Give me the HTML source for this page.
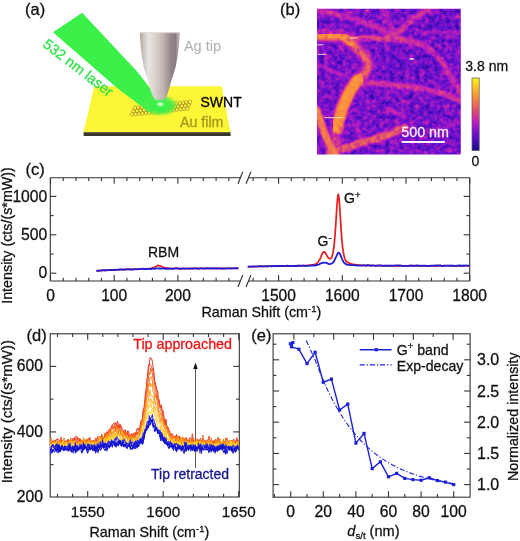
<!DOCTYPE html>
<html lang="en"><head><meta charset="utf-8"><title>TERS of SWNT figure</title>
<style>html,body{margin:0;padding:0;background:#fff}svg{display:block}text{stroke:#111;stroke-width:.28px}text.c{stroke:none}</style></head>
<body>
<svg width="520" height="541" viewBox="0 0 520 541" font-family='"Liberation Sans", sans-serif' font-size="14" fill="#111">
<defs>
<linearGradient id="tipg" x1="0" x2="1" y1="0" y2="0">
<stop offset="0" stop-color="#a89e9c"/><stop offset="0.08" stop-color="#c9c0bc"/><stop offset="0.22" stop-color="#e9e4e0"/>
<stop offset="0.42" stop-color="#d6cdc6"/><stop offset="0.6" stop-color="#beb2ae"/><stop offset="0.78" stop-color="#93868a"/><stop offset="0.9" stop-color="#8a7c84"/><stop offset="0.96" stop-color="#b8afb5"/><stop offset="1" stop-color="#a39a9e"/>
</linearGradient>
<radialGradient id="glow" cx="0.5" cy="0.5" r="0.5">
<stop offset="0" stop-color="#ffffff"/><stop offset="0.18" stop-color="#b8ffb8"/><stop offset="0.45" stop-color="#3df04a" stop-opacity="0.95"/><stop offset="1" stop-color="#3df04a" stop-opacity="0"/>
</radialGradient>
<radialGradient id="glow2" cx="0.5" cy="0.5" r="0.5">
<stop offset="0" stop-color="#3df04a"/><stop offset="0.5" stop-color="#3df04a" stop-opacity="1"/><stop offset="0.75" stop-color="#4af048" stop-opacity="0.6"/><stop offset="1" stop-color="#7cf03c" stop-opacity="0"/>
</radialGradient>
<linearGradient id="cbar" x1="0" x2="0" y1="0" y2="1"><stop offset="0.0" stop-color="rgb(255,242,32)"/><stop offset="0.1" stop-color="rgb(255,208,38)"/><stop offset="0.2" stop-color="rgb(254,165,50)"/><stop offset="0.3" stop-color="rgb(246,130,70)"/><stop offset="0.4" stop-color="rgb(232,95,100)"/><stop offset="0.5" stop-color="rgb(215,62,135)"/><stop offset="0.6" stop-color="rgb(190,32,185)"/><stop offset="0.7" stop-color="rgb(145,22,200)"/><stop offset="0.8" stop-color="rgb(100,16,205)"/><stop offset="0.9" stop-color="rgb(62,12,175)"/><stop offset="1.0" stop-color="rgb(25,10,135)"/></linearGradient>
<filter id="b1" color-interpolation-filters="sRGB" x="-20%" y="-20%" width="140%" height="140%"><feGaussianBlur stdDeviation="1.1"/></filter>
<filter id="b2" color-interpolation-filters="sRGB" x="-20%" y="-20%" width="140%" height="140%"><feGaussianBlur stdDeviation="1.8"/></filter>
<filter id="b3" color-interpolation-filters="sRGB" x="-30%" y="-30%" width="160%" height="160%"><feGaussianBlur stdDeviation="4"/></filter>
<filter id="b05" color-interpolation-filters="sRGB" x="-20%" y="-20%" width="140%" height="140%"><feGaussianBlur stdDeviation="0.5"/></filter>
<filter id="noise" x="0" y="0" width="100%" height="100%" color-interpolation-filters="sRGB">
<feTurbulence type="fractalNoise" baseFrequency="0.2" numOctaves="2" seed="11" result="t"/>
<feColorMatrix in="t" type="matrix" values="0.5 0 0 0 -0.015  0.5 0 0 0 -0.015  0.5 0 0 0 -0.015  0 0 0 0 1"/>
<feGaussianBlur stdDeviation="0.6"/>
</filter>
<filter id="nk" x="0" y="0" width="100%" height="100%" color-interpolation-filters="sRGB">
<feTurbulence type="fractalNoise" baseFrequency="0.21" numOctaves="2" seed="3"/>
<feColorMatrix type="matrix" values="0 0 0 0 0  0 0 0 0 0  0 0 0 0 0  0.8 0 0 0 -0.37"/>
</filter>
<filter id="nw" x="0" y="0" width="100%" height="100%" color-interpolation-filters="sRGB">
<feTurbulence type="fractalNoise" baseFrequency="0.21" numOctaves="2" seed="29"/>
<feColorMatrix type="matrix" values="0 0 0 0 1  0 0 0 0 1  0 0 0 0 1  0.6 0 0 0 -0.29"/>
</filter>
<filter id="plasma" x="0" y="0" width="100%" height="100%" color-interpolation-filters="sRGB">
<feComponentTransfer>
<feFuncR type="table" tableValues="0.098 0.243 0.392 0.569 0.745 0.843 0.910 0.965 0.996 1.000 1.000"/>
<feFuncG type="table" tableValues="0.039 0.047 0.063 0.086 0.125 0.243 0.373 0.510 0.647 0.816 0.949"/>
<feFuncB type="table" tableValues="0.529 0.686 0.804 0.784 0.725 0.529 0.392 0.275 0.196 0.149 0.125"/>
</feComponentTransfer>
</filter>
<clipPath id="afmclip"><rect x="317" y="8.8" width="143.8" height="145.7"/></clipPath>
<pattern id="hex" width="3.6" height="6.2" patternUnits="userSpaceOnUse" patternTransform="rotate(-5.5)">
<path d="M0 1.55 L1.8 0.5 L3.6 1.55 M0 4.65 L1.8 5.7 L3.6 4.65 M0 1.55 V4.65 M3.6 1.55 V4.65 M1.8 0.5 V-0.6 M1.8 5.7 V6.8" fill="none" stroke="#7a5a1c" stroke-width="0.75"/>
</pattern>
</defs>
<rect width="520" height="541" fill="#fff"/>
<g id="pa">
<text x="25" y="14.5" font-size="16.5">(a)</text>
<polygon points="94.2,86.3 221.8,86.3 230.5,132.4 83.5,132.4" fill="#fdf637"/>
<polygon points="83.5,132.2 230.5,132.2 230.7,135.9 83.7,135.9" fill="#38382f"/>
<path transform="translate(133.2,108.3) rotate(-6.29)" d="M1.73,-2 L3.46,-1 L3.46,1 L1.73,2 L-0,1 L0,-1Z M5.2,-2 L6.93,-1 L6.93,1 L5.2,2 L3.46,1 L3.46,-1Z M8.66,-2 L10.39,-1 L10.39,1 L8.66,2 L6.93,1 L6.93,-1Z M12.12,-2 L13.86,-1 L13.86,1 L12.12,2 L10.39,1 L10.39,-1Z M15.59,-2 L17.32,-1 L17.32,1 L15.59,2 L13.86,1 L13.86,-1Z M19.05,-2 L20.78,-1 L20.78,1 L19.05,2 L17.32,1 L17.32,-1Z M22.52,-2 L24.25,-1 L24.25,1 L22.52,2 L20.78,1 L20.78,-1Z M25.98,-2 L27.71,-1 L27.71,1 L25.98,2 L24.25,1 L24.25,-1Z M29.44,-2 L31.18,-1 L31.18,1 L29.44,2 L27.71,1 L27.71,-1Z M32.91,-2 L34.64,-1 L34.64,1 L32.91,2 L31.18,1 L31.18,-1Z M36.37,-2 L38.11,-1 L38.11,1 L36.37,2 L34.64,1 L34.64,-1Z M39.84,-2 L41.57,-1 L41.57,1 L39.84,2 L38.11,1 L38.11,-1Z M43.3,-2 L45.03,-1 L45.03,1 L43.3,2 L41.57,1 L41.57,-1Z M46.77,-2 L48.5,-1 L48.5,1 L46.77,2 L45.03,1 L45.03,-1Z M50.23,-2 L51.96,-1 L51.96,1 L50.23,2 L48.5,1 L48.5,-1Z M53.69,-2 L55.43,-1 L55.43,1 L53.69,2 L51.96,1 L51.96,-1Z M57.16,-2 L58.89,-1 L58.89,1 L57.16,2 L55.43,1 L55.43,-1Z M0,1 L1.73,2 L1.73,4 L0,5 L-1.73,4 L-1.73,2Z M3.46,1 L5.2,2 L5.2,4 L3.46,5 L1.73,4 L1.73,2Z M6.93,1 L8.66,2 L8.66,4 L6.93,5 L5.2,4 L5.2,2Z M10.39,1 L12.12,2 L12.12,4 L10.39,5 L8.66,4 L8.66,2Z M13.86,1 L15.59,2 L15.59,4 L13.86,5 L12.12,4 L12.12,2Z M17.32,1 L19.05,2 L19.05,4 L17.32,5 L15.59,4 L15.59,2Z M20.78,1 L22.52,2 L22.52,4 L20.78,5 L19.05,4 L19.05,2Z M24.25,1 L25.98,2 L25.98,4 L24.25,5 L22.52,4 L22.52,2Z M27.71,1 L29.44,2 L29.44,4 L27.71,5 L25.98,4 L25.98,2Z M31.18,1 L32.91,2 L32.91,4 L31.18,5 L29.44,4 L29.44,2Z M34.64,1 L36.37,2 L36.37,4 L34.64,5 L32.91,4 L32.91,2Z M38.11,1 L39.84,2 L39.84,4 L38.11,5 L36.37,4 L36.37,2Z M41.57,1 L43.3,2 L43.3,4 L41.57,5 L39.84,4 L39.84,2Z M45.03,1 L46.77,2 L46.77,4 L45.03,5 L43.3,4 L43.3,2Z M48.5,1 L50.23,2 L50.23,4 L48.5,5 L46.77,4 L46.77,2Z M51.96,1 L53.69,2 L53.69,4 L51.96,5 L50.23,4 L50.23,2Z M55.43,1 L57.16,2 L57.16,4 L55.43,5 L53.69,4 L53.69,2Z M-1.73,4 L0,5 L0,7 L-1.73,8 L-3.46,7 L-3.46,5Z M1.73,4 L3.46,5 L3.46,7 L1.73,8 L-0,7 L0,5Z M5.2,4 L6.93,5 L6.93,7 L5.2,8 L3.46,7 L3.46,5Z M8.66,4 L10.39,5 L10.39,7 L8.66,8 L6.93,7 L6.93,5Z M12.12,4 L13.86,5 L13.86,7 L12.12,8 L10.39,7 L10.39,5Z M15.59,4 L17.32,5 L17.32,7 L15.59,8 L13.86,7 L13.86,5Z M19.05,4 L20.78,5 L20.78,7 L19.05,8 L17.32,7 L17.32,5Z M22.52,4 L24.25,5 L24.25,7 L22.52,8 L20.78,7 L20.78,5Z M25.98,4 L27.71,5 L27.71,7 L25.98,8 L24.25,7 L24.25,5Z M29.44,4 L31.18,5 L31.18,7 L29.44,8 L27.71,7 L27.71,5Z M32.91,4 L34.64,5 L34.64,7 L32.91,8 L31.18,7 L31.18,5Z M36.37,4 L38.11,5 L38.11,7 L36.37,8 L34.64,7 L34.64,5Z M39.84,4 L41.57,5 L41.57,7 L39.84,8 L38.11,7 L38.11,5Z M43.3,4 L45.03,5 L45.03,7 L43.3,8 L41.57,7 L41.57,5Z M46.77,4 L48.5,5 L48.5,7 L46.77,8 L45.03,7 L45.03,5Z M50.23,4 L51.96,5 L51.96,7 L50.23,8 L48.5,7 L48.5,5Z M53.69,4 L55.43,5 L55.43,7 L53.69,8 L51.96,7 L51.96,5Z" fill="none" stroke="#9c7e2a" stroke-width="0.55"/>
<path d="M82.2,12.8 L53,32.3 L115.3,86.4 Q134,101 150,112.5 L160,100 Q151,90 146.1,83 Q141,76 135.7,70 Z" fill="#3cf04a"/>
<text transform="translate(42,46) rotate(37.6)" font-size="14.5" fill="#2fe046" style="stroke:#2fe046">532 nm laser</text>
<ellipse cx="160.3" cy="105.5" rx="19" ry="11.5" fill="url(#glow2)"/>
<path d="M139.8,32 L179.8,32 C179,50 177,66 172.3,77.7 C170.6,83 169.6,87.5 168.4,91.2 C167.4,94.5 166.6,96.8 165.4,98.8 C164,101.4 161.8,102.2 160.2,102.2 C158.4,102.2 156,101.4 154.4,98.8 C153.2,96.8 152,94.5 150.8,91.2 C149.5,87.5 148.6,83 147.1,77.7 C142.6,66 140.6,50 139.8,32 Z" fill="url(#tipg)"/>
<path d="M139.8,32 L179.8,32 L179.7,33.2 L139.9,33.2 Z" fill="#e6e0dc" opacity="0.8"/>
<ellipse cx="160.3" cy="104.2" rx="10" ry="6.2" fill="url(#glow)"/>
<text x="183.9" y="51.4" font-size="14.5" fill="#adadad" style="stroke:none">Ag tip</text>
<text x="200.5" y="106.5" font-size="14" fill="#000" style="stroke:#000">SWNT</text>
<text x="180" y="127" font-size="14.2" fill="#a3941c" style="stroke:#a3941c">Au film</text>
</g>
<g id="pb">
<text x="280" y="14.5" font-size="16.5">(b)</text>
<g clip-path="url(#afmclip)"><g filter="url(#plasma)">
<rect x="312" y="4" width="154" height="156" fill="#3d3d3d"/>
<rect x="312" y="4" width="154" height="156" fill="#3d3d3d" filter="url(#noise)"/>
<ellipse cx="432" cy="62" rx="16" ry="12" fill="#000" opacity="0.22" filter="url(#b3)"/>
<ellipse cx="392" cy="62" rx="16" ry="12" fill="#000" opacity="0.16" filter="url(#b3)"/>
<ellipse cx="440" cy="22" rx="14" ry="7" fill="#000" opacity="0.15" filter="url(#b3)"/>
<ellipse cx="340" cy="58" rx="10" ry="9" fill="#000" opacity="0.1" filter="url(#b3)"/>
<ellipse cx="425" cy="110" rx="20" ry="10" fill="#000" opacity="0.08" filter="url(#b3)"/>
<path d="M313,9.5 L313.7,9.65 L314.5,9.81 L315.44,10.01 L316.56,10.24 L317.89,10.51 L319.47,10.85 L321.33,11.24 L323.5,11.7 L326.1,12.23 L329.14,12.81 L332.5,13.45 L336.09,14.14 L339.8,14.9 L343.5,15.71 L347.11,16.57 L350.5,17.5 L353.77,18.52 L357.07,19.65 L360.36,20.87 L363.61,22.12 L366.78,23.4 L369.84,24.66 L372.76,25.87 L375.5,27 L378.11,28.09 L380.63,29.18 L383.04,30.25 L385.33,31.29 L387.46,32.29 L389.44,33.21 L391.22,34.06 L392.8,34.8 L394.15,35.44 L395.28,36 L396.21,36.48 L396.98,36.89 L397.62,37.24 L398.15,37.53 L398.6,37.78 L399,38" fill="none" stroke="rgb(117,117,117)" stroke-width="5.5" stroke-linecap="round" stroke-linejoin="round" filter="url(#b2)" style="mix-blend-mode:lighten"/>
<path d="M383,10 L383.69,11.43 L384.62,13.38 L385.72,15.7 L386.94,18.25 L388.23,20.9 L389.54,23.5 L390.81,25.91 L392,28 L393.19,29.87 L394.46,31.7 L395.77,33.47 L397.06,35.12 L398.28,36.64 L399.38,37.98 L400.31,39.12 L401,40" fill="none" stroke="rgb(102,102,102)" stroke-width="5" stroke-linecap="round" stroke-linejoin="round" filter="url(#b1)" style="mix-blend-mode:lighten"/>
<path d="M433,6 L431.59,6.93 L429.7,8.16 L427.44,9.62 L424.94,11.25 L422.32,12.97 L419.71,14.72 L417.23,16.42 L415,18 L412.97,19.52 L411.02,21.07 L409.11,22.63 L407.25,24.19 L405.42,25.72 L403.61,27.21 L401.81,28.64 L400,30 L398.11,31.33 L396.1,32.67 L394.06,33.99 L392.06,35.25 L390.18,36.42 L388.49,37.45 L387.07,38.33 L386,39" fill="none" stroke="rgb(120,120,120)" stroke-width="6" stroke-linecap="round" stroke-linejoin="round" filter="url(#b1)" style="mix-blend-mode:lighten"/>
<path d="M428,33 L429.29,32.91 L430.98,32.77 L433,32.61 L435.25,32.44 L437.66,32.27 L440.14,32.13 L442.62,32.04 L445,32 L447.49,32.04 L450.26,32.13 L453.16,32.27 L456.06,32.44 L458.83,32.61 L461.34,32.77 L463.44,32.91 L465,33" fill="none" stroke="rgb(87,87,87)" stroke-width="6" stroke-linecap="round" stroke-linejoin="round" filter="url(#b2)" style="mix-blend-mode:lighten"/>
<path d="M352,40 L353.42,39.83 L355.33,39.58 L357.61,39.28 L360.12,38.96 L362.75,38.65 L365.36,38.36 L367.82,38.14 L370,38 L371.93,37.95 L373.75,37.96 L375.48,38.03 L377.16,38.12 L378.82,38.25 L380.5,38.38 L382.21,38.5 L384,38.6 L385.86,38.67 L387.75,38.73 L389.67,38.78 L391.61,38.84 L393.56,38.92 L395.52,39.03 L397.47,39.19 L399.4,39.4 L401.33,39.65 L403.25,39.91 L405.18,40.2 L407.11,40.53 L409.04,40.91 L410.96,41.36 L412.88,41.89 L414.8,42.5 L416.73,43.19 L418.68,43.95 L420.63,44.77 L422.58,45.66 L424.51,46.63 L426.39,47.67 L428.23,48.79 L430,50 L431.73,51.31 L433.43,52.74 L435.1,54.26 L436.73,55.86 L438.3,57.5 L439.79,59.17 L441.2,60.84 L442.5,62.5 L443.68,64.19 L444.74,65.95 L445.7,67.76 L446.59,69.57 L447.44,71.37 L448.28,73.11 L449.12,74.76 L450,76.3 L450.89,77.69 L451.76,78.94 L452.62,80.09 L453.47,81.2 L454.32,82.3 L455.19,83.44 L456.08,84.66 L457,86 L458.01,87.56 L459.12,89.32 L460.28,91.2 L461.44,93.11 L462.54,94.93 L463.54,96.59 L464.38,97.97 L465,99" fill="none" stroke="rgb(115,115,115)" stroke-width="6" stroke-linecap="round" stroke-linejoin="round" filter="url(#b1)" style="mix-blend-mode:lighten"/>
<path d="M346,37 L347.88,36.99 L350.41,36.96 L353.42,36.93 L356.75,36.91 L360.24,36.89 L363.72,36.89 L367.03,36.93 L370,37 L372.74,37.11 L375.45,37.26 L378.1,37.43 L380.69,37.62 L383.19,37.83 L385.59,38.05 L387.86,38.28 L390,38.5 L392.05,38.74 L394.05,39.01 L395.96,39.3 L397.75,39.59 L399.38,39.87 L400.83,40.13 L402.04,40.34 L403,40.5" fill="none" stroke="rgb(133,133,133)" stroke-width="4" stroke-linecap="round" stroke-linejoin="round" filter="url(#b1)" style="mix-blend-mode:lighten"/>
<path d="M356,82 L357.26,82.12 L358.97,82.29 L361,82.49 L363.25,82.71 L365.59,82.93 L367.91,83.15 L370.08,83.34 L372,83.5 L373.67,83.62 L375.2,83.71 L376.64,83.79 L378.04,83.85 L379.43,83.91 L380.85,83.99 L382.36,84.08 L384,84.2 L385.71,84.34 L387.43,84.48 L389.19,84.63 L391.01,84.8 L392.91,84.99 L394.93,85.19 L397.08,85.43 L399.4,85.7 L401.92,85.99 L404.64,86.29 L407.5,86.61 L410.47,86.96 L413.51,87.34 L416.55,87.77 L419.56,88.25 L422.5,88.8 L425.4,89.42 L428.34,90.11 L431.29,90.86 L434.23,91.66 L437.14,92.48 L440,93.32 L442.79,94.17 L445.5,95 L448.24,95.88 L451.08,96.86 L453.93,97.87 L456.69,98.89 L459.27,99.85 L461.58,100.72 L463.52,101.45 L465,102" fill="none" stroke="rgb(117,117,117)" stroke-width="6" stroke-linecap="round" stroke-linejoin="round" filter="url(#b1)" style="mix-blend-mode:lighten"/>
<path d="M313,62 L314.6,62.76 L316.73,63.8 L319.27,65.03 L322.09,66.39 L325.06,67.81 L328.04,69.22 L330.89,70.54 L333.5,71.7 L335.99,72.74 L338.56,73.75 L341.13,74.71 L343.66,75.64 L346.07,76.54 L348.3,77.39 L350.3,78.21 L352,79 L353.39,79.77 L354.52,80.53 L355.43,81.26 L356.16,81.96 L356.74,82.59 L357.21,83.16 L357.62,83.63 L358,84" fill="none" stroke="rgb(102,102,102)" stroke-width="3.5" stroke-linecap="round" stroke-linejoin="round" filter="url(#b1)" style="mix-blend-mode:lighten"/>
<path d="M347.4,113.4 L348.25,114.62 L349.41,116.27 L350.8,118.23 L352.32,120.4 L353.9,122.66 L355.42,124.88 L356.82,126.97 L358,128.8 L359.01,130.48 L359.96,132.16 L360.85,133.8 L361.66,135.36 L362.39,136.8 L363.03,138.09 L363.57,139.16 L364,140" fill="none" stroke="rgb(94,94,94)" stroke-width="3.5" stroke-linecap="round" stroke-linejoin="round" filter="url(#b1)" style="mix-blend-mode:lighten"/>
<path d="M465,119 L463.47,119.64 L461.4,120.53 L458.94,121.59 L456.22,122.75 L453.38,123.94 L450.55,125.09 L447.88,126.14 L445.5,127 L443.27,127.72 L440.98,128.38 L438.71,128.97 L436.53,129.5 L434.5,129.97 L432.69,130.38 L431.17,130.72 L430,131" fill="none" stroke="rgb(84,84,84)" stroke-width="5.5" stroke-linecap="round" stroke-linejoin="round" filter="url(#b2)" style="mix-blend-mode:lighten"/>
<path d="M407,104 L406.62,105.43 L406.09,107.45 L405.44,109.88 L404.75,112.5 L404.06,115.12 L403.41,117.55 L402.88,119.57 L402.5,121" fill="none" stroke="rgb(84,84,84)" stroke-width="3" stroke-linecap="round" stroke-linejoin="round" filter="url(#b1)" style="mix-blend-mode:lighten"/>
<path d="M390,108.8 L390.79,109.32 L391.91,110.06 L393.25,110.94 L394.7,111.9 L396.15,112.86 L397.49,113.74 L398.61,114.48 L399.4,115" fill="none" stroke="rgb(115,115,115)" stroke-width="4" stroke-linecap="round" stroke-linejoin="round" filter="url(#b1)" style="mix-blend-mode:lighten"/>
<path d="M330,153 L331.62,152.46 L333.81,151.73 L336.41,150.86 L339.29,149.89 L342.29,148.9 L345.26,147.91 L348.05,147 L350.5,146.2 L352.66,145.51 L354.69,144.87 L356.61,144.27 L358.47,143.71 L360.28,143.16 L362.09,142.61 L363.92,142.06 L365.8,141.5 L367.74,140.93 L369.72,140.36 L371.72,139.8 L373.71,139.24 L375.67,138.68 L377.59,138.12 L379.44,137.56 L381.2,137 L382.86,136.44 L384.44,135.89 L385.96,135.33 L387.42,134.78 L388.86,134.22 L390.29,133.66 L391.73,133.09 L393.2,132.5 L394.77,131.86 L396.44,131.17 L398.16,130.44 L399.85,129.72 L401.45,129.03 L402.88,128.41 L404.09,127.89 L405,127.5" fill="none" stroke="rgb(153,153,153)" stroke-width="7.5" stroke-linecap="round" stroke-linejoin="round" filter="url(#b1)" style="mix-blend-mode:lighten"/>
<path d="M316.2,109 L316.35,109.4 L316.53,109.89 L316.75,110.48 L317,111.16 L317.27,111.9 L317.57,112.71 L317.88,113.58 L318.2,114.5 L318.53,115.48 L318.89,116.52 L319.26,117.64 L319.65,118.81 L320.06,120.04 L320.49,121.32 L320.93,122.64 L321.4,124 L321.89,125.44 L322.41,126.99 L322.95,128.61 L323.51,130.27 L324.08,131.92 L324.65,133.54 L325.23,135.07 L325.8,136.5 L326.37,137.78 L326.95,138.94 L327.53,140.01 L328.11,141.05 L328.7,142.09 L329.3,143.19 L329.9,144.38 L330.5,145.7 L331.14,147.26 L331.85,149.05 L332.57,150.97 L333.29,152.92 L333.98,154.81 L334.59,156.51 L335.11,157.95 L335.5,159" fill="none" stroke="rgb(178,178,178)" stroke-width="7.5" stroke-linecap="round" stroke-linejoin="round" filter="url(#b1)" style="mix-blend-mode:lighten"/>
<path d="M310,35.6 L311.59,35.61 L313.76,35.62 L316.35,35.63 L319.2,35.65 L322.15,35.67 L325.04,35.7 L327.71,35.74 L330,35.8 L331.97,35.83 L333.79,35.81 L335.49,35.79 L337.08,35.78 L338.58,35.83 L340.02,35.96 L341.42,36.2 L342.8,36.6 L344.12,37.15 L345.35,37.83 L346.51,38.62 L347.63,39.49 L348.71,40.44 L349.78,41.44 L350.87,42.46 L352,43.5 L353.17,44.58 L354.36,45.74 L355.56,46.95 L356.75,48.2 L357.93,49.47 L359.07,50.74 L360.16,51.99 L361.2,53.2 L362.22,54.38 L363.27,55.56 L364.31,56.72 L365.3,57.88 L366.2,59.04 L366.97,60.19 L367.59,61.35 L368,62.5 L368.22,63.66 L368.28,64.83 L368.2,66 L367.99,67.16 L367.65,68.32 L367.2,69.47 L366.65,70.59 L366,71.7 L365.19,72.78 L364.18,73.82 L363.03,74.85 L361.78,75.86 L360.5,76.88 L359.24,77.9 L358.05,78.94 L357,80 L356.06,81.09 L355.16,82.2 L354.3,83.32 L353.48,84.46 L352.7,85.59 L351.94,86.73 L351.21,87.87 L350.5,89 L349.83,90.11 L349.2,91.21 L348.6,92.3 L348.03,93.39 L347.48,94.49 L346.93,95.62 L346.37,96.79 L345.8,98 L345.21,99.26 L344.61,100.58 L344,101.92 L343.39,103.29 L342.8,104.68 L342.24,106.06 L341.7,107.44 L341.2,108.8 L340.74,110.15 L340.3,111.51 L339.9,112.88 L339.51,114.24 L339.15,115.59 L338.81,116.93 L338.5,118.23 L338.2,119.5 L337.93,120.72 L337.7,121.88 L337.5,123.01 L337.31,124.12 L337.14,125.23 L336.97,126.37 L336.79,127.56 L336.6,128.8 L336.4,130.08 L336.19,131.35 L335.97,132.65 L335.76,133.98 L335.56,135.36 L335.36,136.82 L335.17,138.36 L335,140 L334.84,141.88 L334.68,144.04 L334.54,146.35 L334.4,148.7 L334.28,150.96 L334.17,153.01 L334.07,154.73 L334,156" fill="none" stroke="rgb(102,102,102)" stroke-width="13" stroke-linecap="round" stroke-linejoin="round" filter="url(#b2)" style="mix-blend-mode:lighten"/>
<path d="M310,35.6 L311.59,35.61 L313.76,35.62 L316.35,35.63 L319.2,35.65 L322.15,35.67 L325.04,35.7 L327.71,35.74 L330,35.8 L331.97,35.83 L333.79,35.81 L335.49,35.79 L337.08,35.78 L338.58,35.83 L340.02,35.96 L341.42,36.2 L342.8,36.6 L344.19,37.22 L345.57,38.06 L346.92,39.04 L348.2,40.1 L349.38,41.15 L350.43,42.12 L351.31,42.93 L352,43.5" fill="none" stroke="rgb(189,189,189)" stroke-width="8" stroke-linecap="round" stroke-linejoin="round" filter="url(#b1)" style="mix-blend-mode:lighten"/>
<path d="M352,43.5 L352.73,44.25 L353.71,45.25 L354.88,46.44 L356.17,47.77 L357.52,49.17 L358.85,50.58 L360.1,51.94 L361.2,53.2 L362.22,54.38 L363.27,55.56 L364.31,56.72 L365.3,57.88 L366.2,59.04 L366.97,60.19 L367.59,61.35 L368,62.5 L368.21,63.66 L368.26,64.83 L368.16,66 L367.93,67.16 L367.58,68.32 L367.13,69.47 L366.6,70.59 L366,71.7 L365.23,72.84 L364.23,74.03 L363.09,75.24 L361.88,76.43 L360.68,77.53 L359.58,78.53 L358.66,79.37 L358,80" fill="none" stroke="rgb(158,158,158)" stroke-width="6" stroke-linecap="round" stroke-linejoin="round" filter="url(#b1)" style="mix-blend-mode:lighten"/>
<path d="M358,80 L357.49,80.69 L356.79,81.62 L355.96,82.72 L355.04,83.94 L354.09,85.23 L353.15,86.54 L352.27,87.81 L351.5,89 L350.83,90.11 L350.2,91.21 L349.6,92.3 L349.03,93.39 L348.48,94.49 L347.93,95.62 L347.37,96.79 L346.8,98 L346.21,99.26 L345.61,100.58 L345.01,101.92 L344.41,103.29 L343.82,104.68 L343.25,106.06 L342.71,107.44 L342.2,108.8 L341.72,110.15 L341.27,111.51 L340.84,112.88 L340.43,114.24 L340.04,115.59 L339.67,116.93 L339.32,118.23 L339,119.5 L338.7,120.79 L338.41,122.14 L338.14,123.5 L337.9,124.82 L337.68,126.06 L337.49,127.16 L337.33,128.09 L337.2,128.8" fill="none" stroke="rgb(194,194,194)" stroke-width="11" stroke-linecap="round" stroke-linejoin="round" filter="url(#b1)" style="mix-blend-mode:lighten"/>
<path d="M337.5,124 L337.38,124.76 L337.22,125.75 L337.03,126.93 L336.81,128.25 L336.59,129.66 L336.38,131.12 L336.17,132.59 L336,134 L335.85,135.41 L335.7,136.88 L335.57,138.4 L335.44,139.94 L335.32,141.49 L335.2,143.02 L335.1,144.53 L335,146 L334.91,147.5 L334.83,149.08 L334.75,150.68 L334.69,152.25 L334.63,153.72 L334.58,155.05 L334.54,156.16 L334.5,157" fill="none" stroke="rgb(128,128,128)" stroke-width="7" stroke-linecap="round" stroke-linejoin="round" filter="url(#b2)" style="mix-blend-mode:lighten"/>
<rect x="312" y="4" width="154" height="156" fill="#000" filter="url(#nk)"/>
<rect x="312" y="4" width="154" height="156" fill="#fff" filter="url(#nw)"/>
<path d="M310,35.8 L311.61,35.81 L313.83,35.83 L316.47,35.84 L319.38,35.86 L322.35,35.89 L325.23,35.92 L327.84,35.95 L330,36 L331.8,36.06 L333.44,36.14 L334.92,36.22 L336.25,36.31 L337.42,36.4 L338.44,36.48 L339.3,36.55 L340,36.6" fill="none" stroke="rgb(173,173,173)" stroke-width="5" stroke-linecap="round" stroke-linejoin="round" filter="url(#b2)" style="mix-blend-mode:lighten"/>
<path d="M358.5,79 L357.99,79.69 L357.3,80.61 L356.47,81.69 L355.56,82.91 L354.61,84.19 L353.67,85.5 L352.79,86.79 L352,88 L351.3,89.16 L350.63,90.32 L349.99,91.48 L349.38,92.66 L348.77,93.84 L348.18,95.04 L347.59,96.26 L347,97.5 L346.4,98.77 L345.8,100.09 L345.2,101.43 L344.61,102.78 L344.03,104.13 L343.49,105.46 L342.97,106.75 L342.5,108 L342.06,109.26 L341.64,110.57 L341.24,111.88 L340.87,113.16 L340.54,114.35 L340.24,115.42 L340,116.32 L339.8,117" fill="none" stroke="rgb(189,189,189)" stroke-width="8.5" stroke-linecap="round" stroke-linejoin="round" filter="url(#b2)" style="mix-blend-mode:lighten"/>
<path d="M316.2,110 L316.35,110.31 L316.53,110.69 L316.75,111.14 L317,111.66 L317.27,112.25 L317.57,112.92 L317.88,113.67 L318.2,114.5 L318.53,115.43 L318.89,116.45 L319.26,117.56 L319.65,118.75 L320.06,120 L320.49,121.3 L320.93,122.63 L321.4,124 L321.89,125.44 L322.41,126.99 L322.95,128.61 L323.51,130.27 L324.08,131.92 L324.65,133.54 L325.23,135.07 L325.8,136.5 L326.37,137.78 L326.95,138.94 L327.53,140.01 L328.11,141.05 L328.7,142.09 L329.3,143.19 L329.9,144.38 L330.5,145.7 L331.14,147.26 L331.85,149.05 L332.57,150.97 L333.29,152.92 L333.98,154.81 L334.59,156.51 L335.11,157.95 L335.5,159" fill="none" stroke="rgb(168,168,168)" stroke-width="5" stroke-linecap="round" stroke-linejoin="round" filter="url(#b1)" style="mix-blend-mode:lighten"/>
</g></g>
<g clip-path="url(#afmclip)">
<rect x="349.5" y="37.4" width="8" height="1.1" fill="#ffe6cc" opacity="0.8" filter="url(#b05)"/>
<rect x="317" y="44.199999999999996" width="6.5" height="1.1" fill="#ffe6cc" opacity="0.8" filter="url(#b05)"/>
<rect x="318" y="53.8" width="8.4" height="1.1" fill="#ffe6cc" opacity="0.8" filter="url(#b05)"/>
<rect x="324.3" y="117.10000000000001" width="18.5" height="1.1" fill="#ffe6cc" opacity="0.8" filter="url(#b05)"/>
<ellipse cx="411.7" cy="59" rx="2.6" ry="1.1" fill="#ffd6dc" opacity="0.9" filter="url(#b05)"/>
</g>
<text x="401.3" y="136.8" font-size="14.3" fill="#fdeffd" style="stroke:#fdeffd">500 nm</text>
<rect x="401.7" y="141" width="43.1" height="2" fill="#fdeffd"/>
<rect x="472" y="78" width="7.2" height="72.5" fill="url(#cbar)" stroke="#5a5a5a" stroke-width="0.7"/>
<text x="465.3" y="70.5" font-size="14">3.8 nm</text>
<text x="471.6" y="165.8" font-size="14">0</text>
</g>
<g id="pc">
<text x="25.5" y="174.7" font-size="16.5">(c)</text>
<line x1="50.3" y1="177.7" x2="240.4" y2="177.7" stroke="#333" stroke-width="1.1"/>
<line x1="248.5" y1="177.7" x2="469.7" y2="177.7" stroke="#333" stroke-width="1.1"/>
<line x1="50.3" y1="281" x2="240.4" y2="281" stroke="#333" stroke-width="1.1"/>
<line x1="248.5" y1="281" x2="469.7" y2="281" stroke="#333" stroke-width="1.1"/>
<line x1="50.3" y1="177.7" x2="50.3" y2="281" stroke="#333" stroke-width="1.1"/>
<line x1="469.7" y1="177.7" x2="469.7" y2="281" stroke="#333" stroke-width="1.1"/>
<line x1="238" y1="183.7" x2="242.8" y2="171.7" stroke="#333" stroke-width="1.15"/>
<line x1="246.1" y1="183.7" x2="250.9" y2="171.7" stroke="#333" stroke-width="1.15"/>
<line x1="238" y1="287" x2="242.8" y2="275" stroke="#333" stroke-width="1.15"/>
<line x1="246.1" y1="287" x2="250.9" y2="275" stroke="#333" stroke-width="1.15"/>
<line x1="50.5" y1="281" x2="50.5" y2="275" stroke="#333" stroke-width="1.1"/>
<line x1="50.5" y1="177.7" x2="50.5" y2="183.7" stroke="#333" stroke-width="1.1"/>
<line x1="63.24" y1="281" x2="63.24" y2="277.7" stroke="#333" stroke-width="1.1"/>
<line x1="63.24" y1="177.7" x2="63.24" y2="181" stroke="#333" stroke-width="1.1"/>
<line x1="75.98" y1="281" x2="75.98" y2="277.7" stroke="#333" stroke-width="1.1"/>
<line x1="75.98" y1="177.7" x2="75.98" y2="181" stroke="#333" stroke-width="1.1"/>
<line x1="88.72" y1="281" x2="88.72" y2="277.7" stroke="#333" stroke-width="1.1"/>
<line x1="88.72" y1="177.7" x2="88.72" y2="181" stroke="#333" stroke-width="1.1"/>
<line x1="101.46" y1="281" x2="101.46" y2="277.7" stroke="#333" stroke-width="1.1"/>
<line x1="101.46" y1="177.7" x2="101.46" y2="181" stroke="#333" stroke-width="1.1"/>
<line x1="114.2" y1="281" x2="114.2" y2="275" stroke="#333" stroke-width="1.1"/>
<line x1="114.2" y1="177.7" x2="114.2" y2="183.7" stroke="#333" stroke-width="1.1"/>
<line x1="126.94" y1="281" x2="126.94" y2="277.7" stroke="#333" stroke-width="1.1"/>
<line x1="126.94" y1="177.7" x2="126.94" y2="181" stroke="#333" stroke-width="1.1"/>
<line x1="139.68" y1="281" x2="139.68" y2="277.7" stroke="#333" stroke-width="1.1"/>
<line x1="139.68" y1="177.7" x2="139.68" y2="181" stroke="#333" stroke-width="1.1"/>
<line x1="152.42" y1="281" x2="152.42" y2="277.7" stroke="#333" stroke-width="1.1"/>
<line x1="152.42" y1="177.7" x2="152.42" y2="181" stroke="#333" stroke-width="1.1"/>
<line x1="165.16" y1="281" x2="165.16" y2="277.7" stroke="#333" stroke-width="1.1"/>
<line x1="165.16" y1="177.7" x2="165.16" y2="181" stroke="#333" stroke-width="1.1"/>
<line x1="177.9" y1="281" x2="177.9" y2="275" stroke="#333" stroke-width="1.1"/>
<line x1="177.9" y1="177.7" x2="177.9" y2="183.7" stroke="#333" stroke-width="1.1"/>
<line x1="190.64" y1="281" x2="190.64" y2="277.7" stroke="#333" stroke-width="1.1"/>
<line x1="190.64" y1="177.7" x2="190.64" y2="181" stroke="#333" stroke-width="1.1"/>
<line x1="203.38" y1="281" x2="203.38" y2="277.7" stroke="#333" stroke-width="1.1"/>
<line x1="203.38" y1="177.7" x2="203.38" y2="181" stroke="#333" stroke-width="1.1"/>
<line x1="216.12" y1="281" x2="216.12" y2="277.7" stroke="#333" stroke-width="1.1"/>
<line x1="216.12" y1="177.7" x2="216.12" y2="181" stroke="#333" stroke-width="1.1"/>
<line x1="228.86" y1="281" x2="228.86" y2="277.7" stroke="#333" stroke-width="1.1"/>
<line x1="228.86" y1="177.7" x2="228.86" y2="181" stroke="#333" stroke-width="1.1"/>
<line x1="253.12" y1="281" x2="253.12" y2="277.7" stroke="#333" stroke-width="1.1"/>
<line x1="253.12" y1="177.7" x2="253.12" y2="181" stroke="#333" stroke-width="1.1"/>
<line x1="265.86" y1="281" x2="265.86" y2="277.7" stroke="#333" stroke-width="1.1"/>
<line x1="265.86" y1="177.7" x2="265.86" y2="181" stroke="#333" stroke-width="1.1"/>
<line x1="278.6" y1="281" x2="278.6" y2="275" stroke="#333" stroke-width="1.1"/>
<line x1="278.6" y1="177.7" x2="278.6" y2="183.7" stroke="#333" stroke-width="1.1"/>
<line x1="291.34" y1="281" x2="291.34" y2="277.7" stroke="#333" stroke-width="1.1"/>
<line x1="291.34" y1="177.7" x2="291.34" y2="181" stroke="#333" stroke-width="1.1"/>
<line x1="304.08" y1="281" x2="304.08" y2="277.7" stroke="#333" stroke-width="1.1"/>
<line x1="304.08" y1="177.7" x2="304.08" y2="181" stroke="#333" stroke-width="1.1"/>
<line x1="316.82" y1="281" x2="316.82" y2="277.7" stroke="#333" stroke-width="1.1"/>
<line x1="316.82" y1="177.7" x2="316.82" y2="181" stroke="#333" stroke-width="1.1"/>
<line x1="329.56" y1="281" x2="329.56" y2="277.7" stroke="#333" stroke-width="1.1"/>
<line x1="329.56" y1="177.7" x2="329.56" y2="181" stroke="#333" stroke-width="1.1"/>
<line x1="342.3" y1="281" x2="342.3" y2="275" stroke="#333" stroke-width="1.1"/>
<line x1="342.3" y1="177.7" x2="342.3" y2="183.7" stroke="#333" stroke-width="1.1"/>
<line x1="355.04" y1="281" x2="355.04" y2="277.7" stroke="#333" stroke-width="1.1"/>
<line x1="355.04" y1="177.7" x2="355.04" y2="181" stroke="#333" stroke-width="1.1"/>
<line x1="367.78" y1="281" x2="367.78" y2="277.7" stroke="#333" stroke-width="1.1"/>
<line x1="367.78" y1="177.7" x2="367.78" y2="181" stroke="#333" stroke-width="1.1"/>
<line x1="380.52" y1="281" x2="380.52" y2="277.7" stroke="#333" stroke-width="1.1"/>
<line x1="380.52" y1="177.7" x2="380.52" y2="181" stroke="#333" stroke-width="1.1"/>
<line x1="393.26" y1="281" x2="393.26" y2="277.7" stroke="#333" stroke-width="1.1"/>
<line x1="393.26" y1="177.7" x2="393.26" y2="181" stroke="#333" stroke-width="1.1"/>
<line x1="406" y1="281" x2="406" y2="275" stroke="#333" stroke-width="1.1"/>
<line x1="406" y1="177.7" x2="406" y2="183.7" stroke="#333" stroke-width="1.1"/>
<line x1="418.74" y1="281" x2="418.74" y2="277.7" stroke="#333" stroke-width="1.1"/>
<line x1="418.74" y1="177.7" x2="418.74" y2="181" stroke="#333" stroke-width="1.1"/>
<line x1="431.48" y1="281" x2="431.48" y2="277.7" stroke="#333" stroke-width="1.1"/>
<line x1="431.48" y1="177.7" x2="431.48" y2="181" stroke="#333" stroke-width="1.1"/>
<line x1="444.22" y1="281" x2="444.22" y2="277.7" stroke="#333" stroke-width="1.1"/>
<line x1="444.22" y1="177.7" x2="444.22" y2="181" stroke="#333" stroke-width="1.1"/>
<line x1="456.96" y1="281" x2="456.96" y2="277.7" stroke="#333" stroke-width="1.1"/>
<line x1="456.96" y1="177.7" x2="456.96" y2="181" stroke="#333" stroke-width="1.1"/>
<line x1="469.7" y1="281" x2="469.7" y2="275" stroke="#333" stroke-width="1.1"/>
<line x1="469.7" y1="177.7" x2="469.7" y2="183.7" stroke="#333" stroke-width="1.1"/>
<line x1="50.3" y1="273.2" x2="56.3" y2="273.2" stroke="#333" stroke-width="1.1"/>
<line x1="469.7" y1="273.2" x2="463.7" y2="273.2" stroke="#333" stroke-width="1.1"/>
<line x1="50.3" y1="254" x2="53.6" y2="254" stroke="#333" stroke-width="1.1"/>
<line x1="469.7" y1="254" x2="466.4" y2="254" stroke="#333" stroke-width="1.1"/>
<line x1="50.3" y1="234.8" x2="56.3" y2="234.8" stroke="#333" stroke-width="1.1"/>
<line x1="469.7" y1="234.8" x2="463.7" y2="234.8" stroke="#333" stroke-width="1.1"/>
<line x1="50.3" y1="215.6" x2="53.6" y2="215.6" stroke="#333" stroke-width="1.1"/>
<line x1="469.7" y1="215.6" x2="466.4" y2="215.6" stroke="#333" stroke-width="1.1"/>
<line x1="50.3" y1="196.4" x2="56.3" y2="196.4" stroke="#333" stroke-width="1.1"/>
<line x1="469.7" y1="196.4" x2="463.7" y2="196.4" stroke="#333" stroke-width="1.1"/>
<text x="50.5" y="301.2" text-anchor="middle" font-size="15.6">0</text>
<text x="114.2" y="301.2" text-anchor="middle" font-size="15.6">100</text>
<text x="177.9" y="301.2" text-anchor="middle" font-size="15.6">200</text>
<text x="278.6" y="301.2" text-anchor="middle" font-size="15.6">1500</text>
<text x="342.3" y="301.2" text-anchor="middle" font-size="15.6">1600</text>
<text x="406" y="301.2" text-anchor="middle" font-size="15.6">1700</text>
<text x="469.7" y="301.2" text-anchor="middle" font-size="15.6">1800</text>
<text x="47.3" y="278.4" text-anchor="end" font-size="15.7">0</text>
<text x="47.3" y="240" text-anchor="end" font-size="15.7">500</text>
<text x="47.3" y="201.6" text-anchor="end" font-size="15.7">1000</text>
<text transform="translate(12.2,235.5) rotate(-90)" text-anchor="middle" font-size="14.3">Intensity (cts/(s*mW))</text>
<text x="201.5" y="317.2" font-size="14.3">Raman Shift (cm<tspan dy="-5" font-size="9.5">-1</tspan><tspan dy="5">)</tspan></text>
<polyline points="96.36,270.67 97,270.73 97.64,270.73 98.28,270.68 98.91,270.7 99.55,270.65 100.19,270.65 100.82,270.65 101.46,270.45 102.1,270.38 102.73,270.46 103.37,270.41 104.01,270.32 104.65,270.33 105.28,270.39 105.92,270.37 106.56,270.23 107.19,270.13 107.83,270.19 108.47,270.17 109.1,270 109.74,269.98 110.38,269.96 111.02,269.82 111.65,269.95 112.29,270.1 112.93,270.13 113.56,270.07 114.2,269.89 114.84,269.86 115.47,269.85 116.11,269.79 116.75,269.84 117.39,269.86 118.02,269.91 118.66,269.9 119.3,269.73 119.93,269.47 120.57,269.39 121.21,269.49 121.84,269.51 122.48,269.49 123.12,269.51 123.75,269.63 124.39,269.76 125.03,269.69 125.67,269.38 126.3,269.17 126.94,269.29 127.58,269.32 128.21,269.18 128.85,269.22 129.49,269.28 130.12,269.27 130.76,269.29 131.4,269.36 132.04,269.37 132.67,269.25 133.31,269.13 133.95,269.09 134.58,269.24 135.22,269.35 135.86,269.15 136.5,268.97 137.13,269.09 137.77,269.24 138.41,269.27 139.04,269.21 139.68,269.16 140.32,269.06 140.95,268.91 141.59,268.91 142.23,268.88 142.87,268.71 143.5,268.7 144.14,268.81 144.78,268.8 145.41,268.75 146.05,268.87 146.69,268.92 147.32,268.72 147.96,268.57 148.6,268.62 149.24,268.68 149.87,268.63 150.51,268.53 151.15,268.35 151.78,268.04 152.42,267.82 153.06,267.7 153.69,267.52 154.33,267.28 154.97,267.04 155.61,266.79 156.24,266.48 156.88,266.02 157.52,265.56 158.15,265.45 158.79,265.57 159.43,265.71 160.06,265.87 160.7,266.03 161.34,266.36 161.98,266.76 162.61,267.02 163.25,267.22 163.89,267.39 164.52,267.55 165.16,267.74 165.8,268.01 166.43,268.19 167.07,268.17 167.71,268.16 168.34,268.31 168.98,268.47 169.62,268.46 170.26,268.45 170.89,268.53 171.53,268.47 172.17,268.36 172.8,268.48 173.44,268.56 174.08,268.47 174.72,268.46 175.35,268.46 175.99,268.41 176.63,268.4 177.26,268.4 177.9,268.38 178.54,268.46 179.17,268.57 179.81,268.59 180.45,268.56 181.09,268.56 181.72,268.68 182.36,268.72 183,268.64 183.63,268.71 184.27,268.73 184.91,268.58 185.54,268.52 186.18,268.5 186.82,268.57 187.46,268.68 188.09,268.68 188.73,268.6 189.37,268.57 190,268.58 190.64,268.61 191.28,268.63 191.91,268.62 192.55,268.64 193.19,268.53 193.82,268.35 194.46,268.24 195.1,268.31 195.74,268.48 196.37,268.39 197.01,268.25 197.65,268.34 198.28,268.46 198.92,268.36 199.56,268.31 200.19,268.47 200.83,268.41 201.47,268.33 202.11,268.41 202.74,268.45 203.38,268.54 204.02,268.59 204.65,268.53 205.29,268.44 205.93,268.37 206.56,268.37 207.2,268.46 207.84,268.42 208.48,268.29 209.11,268.37 209.75,268.47 210.39,268.42 211.02,268.4 211.66,268.37 212.3,268.29 212.94,268.26 213.57,268.41 214.21,268.63 214.85,268.57 215.48,268.4 216.12,268.32 216.76,268.27 217.39,268.34 218.03,268.39 218.67,268.35 219.31,268.5 219.94,268.51 220.58,268.37 221.22,268.43 221.85,268.36 222.49,268.24 223.13,268.39 223.76,268.47 224.4,268.42 225.04,268.52 225.68,268.58 226.31,268.42 226.95,268.29 227.59,268.25 228.22,268.29 228.86,268.37 229.5,268.45 230.13,268.49 230.77,268.41 231.41,268.33 232.05,268.33 232.68,268.35 233.32,268.41 233.96,268.43 234.59,268.38 235.23,268.33 235.87,268.29 236.5,268.22 237.14,268.18 237.78,268.29 238.41,268.37" fill="none" stroke="#ea1c1c" stroke-width="1.7" stroke-linejoin="round"/>
<polyline points="96.36,270.92 97,270.79 97.64,270.7 98.28,270.74 98.91,270.66 99.55,270.56 100.19,270.58 100.82,270.55 101.46,270.43 102.1,270.39 102.73,270.33 103.37,270.21 104.01,270.21 104.65,270.33 105.28,270.34 105.92,270.26 106.56,270.31 107.19,270.32 107.83,270.13 108.47,270.03 109.1,270.08 109.74,270.08 110.38,270 111.02,270.01 111.65,270.09 112.29,270.1 112.93,270.02 113.56,269.94 114.2,269.88 114.84,269.81 115.47,269.75 116.11,269.72 116.75,269.82 117.39,269.86 118.02,269.74 118.66,269.58 119.3,269.48 119.93,269.6 120.57,269.74 121.21,269.58 121.84,269.42 122.48,269.51 123.12,269.57 123.75,269.54 124.39,269.5 125.03,269.44 125.67,269.36 126.3,269.28 126.94,269.34 127.58,269.42 128.21,269.31 128.85,269.27 129.49,269.38 130.12,269.51 130.76,269.51 131.4,269.35 132.04,269.39 132.67,269.58 133.31,269.53 133.95,269.3 134.58,269.15 135.22,269.14 135.86,269.19 136.5,269.31 137.13,269.29 137.77,269.09 138.41,269.03 139.04,269.02 139.68,269.02 140.32,269.13 140.95,269.1 141.59,268.88 142.23,268.81 142.87,268.85 143.5,268.88 144.14,268.96 144.78,268.99 145.41,269.05 146.05,269.1 146.69,268.95 147.32,268.83 147.96,268.89 148.6,268.85 149.24,268.81 149.87,268.99 150.51,269.08 151.15,269.02 151.78,268.88 152.42,268.69 153.06,268.69 153.69,268.8 154.33,268.63 154.97,268.41 155.61,268.53 156.24,268.62 156.88,268.46 157.52,268.36 158.15,268.4 158.79,268.53 159.43,268.52 160.06,268.41 160.7,268.49 161.34,268.57 161.98,268.42 162.61,268.4 163.25,268.55 163.89,268.6 164.52,268.62 165.16,268.73 165.8,268.77 166.43,268.73 167.07,268.73 167.71,268.73 168.34,268.76 168.98,268.72 169.62,268.56 170.26,268.51 170.89,268.71 171.53,268.84 172.17,268.8 172.8,268.78 173.44,268.7 174.08,268.55 174.72,268.42 175.35,268.43 175.99,268.45 176.63,268.27 177.26,268.27 177.9,268.61 178.54,268.8 179.17,268.68 179.81,268.67 180.45,268.77 181.09,268.67 181.72,268.6 182.36,268.6 183,268.47 183.63,268.43 184.27,268.52 184.91,268.56 185.54,268.62 186.18,268.62 186.82,268.52 187.46,268.49 188.09,268.65 188.73,268.72 189.37,268.63 190,268.62 190.64,268.48 191.28,268.32 191.91,268.46 192.55,268.67 193.19,268.62 193.82,268.44 194.46,268.4 195.1,268.38 195.74,268.36 196.37,268.44 197.01,268.54 197.65,268.72 198.28,268.87 198.92,268.75 199.56,268.54 200.19,268.45 200.83,268.42 201.47,268.43 202.11,268.4 202.74,268.4 203.38,268.5 204.02,268.58 204.65,268.55 205.29,268.41 205.93,268.35 206.56,268.3 207.2,268.2 207.84,268.25 208.48,268.33 209.11,268.41 209.75,268.49 210.39,268.43 211.02,268.45 211.66,268.49 212.3,268.39 212.94,268.37 213.57,268.39 214.21,268.36 214.85,268.26 215.48,268.26 216.12,268.48 216.76,268.59 217.39,268.44 218.03,268.33 218.67,268.41 219.31,268.44 219.94,268.5 220.58,268.66 221.22,268.64 221.85,268.53 222.49,268.45 223.13,268.49 223.76,268.53 224.4,268.53 225.04,268.53 225.68,268.47 226.31,268.45 226.95,268.47 227.59,268.41 228.22,268.32 228.86,268.3 229.5,268.29 230.13,268.33 230.77,268.39 231.41,268.33 232.05,268.28 232.68,268.33 233.32,268.4 233.96,268.38 234.59,268.19 235.23,268.14 235.87,268.3 236.5,268.36 237.14,268.32 237.78,268.27 238.41,268.27" fill="none" stroke="#1c1cd6" stroke-width="1.8" stroke-linejoin="round"/>
<polyline points="247.71,266.73 248.34,266.97 248.98,266.95 249.62,266.8 250.25,266.74 250.89,266.74 251.53,266.68 252.16,266.44 252.8,266.48 253.44,266.79 254.08,266.72 254.71,266.51 255.35,266.52 255.99,266.62 256.62,266.72 257.26,266.62 257.9,266.37 258.53,266.28 259.17,266.41 259.81,266.51 260.45,266.46 261.08,266.39 261.72,266.33 262.36,266.37 262.99,266.42 263.63,266.43 264.27,266.42 264.9,266.23 265.54,266.2 266.18,266.35 266.82,266.37 267.45,266.31 268.09,266.16 268.73,266.11 269.36,266.17 270,266.16 270.64,266.26 271.27,266.35 271.91,266.32 272.55,266.27 273.19,266.23 273.82,266.22 274.46,266.19 275.1,266.05 275.73,266.02 276.37,266.22 277.01,266.28 277.64,266.05 278.28,265.95 278.92,266.13 279.56,266.23 280.19,266.03 280.83,265.99 281.47,266.16 282.1,266.12 282.74,266.1 283.38,266.12 284.01,266.08 284.65,266.11 285.29,265.96 285.93,265.81 286.56,265.93 287.2,266.16 287.84,266.28 288.47,266.3 289.11,266.13 289.75,265.86 290.38,265.91 291.02,266.11 291.66,266.16 292.3,266.09 292.93,266.03 293.57,265.92 294.21,265.76 294.84,265.85 295.48,265.92 296.12,265.72 296.75,265.51 297.39,265.55 298.03,265.71 298.67,265.72 299.3,265.65 299.94,265.61 300.58,265.66 301.21,265.82 301.85,265.82 302.49,265.72 303.12,265.63 303.76,265.46 304.4,265.5 305.04,265.63 305.67,265.59 306.31,265.52 306.95,265.39 307.58,265.34 308.22,265.53 308.86,265.54 309.49,265.29 310.13,265.15 310.77,265.06 311.41,264.97 312.04,264.89 312.68,264.81 313.32,264.78 313.95,264.68 314.59,264.57 315.23,264.33 315.86,263.86 316.5,263.53 317.14,263.29 317.78,262.63 318.41,261.59 319.05,260.56 319.69,259.55 320.32,258.37 320.96,256.84 321.6,255.13 322.23,253.73 322.87,252.68 323.51,251.94 324.15,251.76 324.78,252.2 325.42,253.06 326.06,254.09 326.69,255.18 327.33,256.3 327.97,257.4 328.6,258.18 329.24,258.49 329.88,258.63 330.52,258.66 331.15,258.27 331.79,257.22 332.43,255.32 333.06,252.39 333.7,248.33 334.34,242.85 334.97,235.73 335.61,226.89 336.25,216.65 336.89,206.44 337.52,198.32 338.16,194.41 338.8,196.2 339.43,203.13 340.07,212.89 340.71,223.34 341.34,232.9 341.98,240.79 342.62,246.99 343.26,251.69 343.89,255.24 344.53,257.77 345.17,259.56 345.8,260.86 346.44,261.59 347.08,262.04 347.71,262.45 348.35,262.66 348.99,262.92 349.63,263.26 350.26,263.45 350.9,263.66 351.54,263.89 352.17,264.08 352.81,264.27 353.45,264.45 354.08,264.55 354.72,264.66 355.36,264.72 356,264.72 356.63,264.81 357.27,264.88 357.91,264.86 358.54,264.98 359.18,265.16 359.82,265.1 360.45,265.1 361.09,265.23 361.73,265.31 362.37,265.31 363,265.22 363.64,265.27 364.28,265.3 364.91,265.24 365.55,265.3 366.19,265.41 366.82,265.55 367.46,265.65 368.1,265.67 368.74,265.52 369.37,265.37 370.01,265.37 370.65,265.46 371.28,265.65 371.92,265.73 372.56,265.62 373.19,265.5 373.83,265.5 374.47,265.53 375.11,265.53 375.74,265.58 376.38,265.54 377.02,265.5 377.65,265.6 378.29,265.55 378.93,265.43 379.56,265.49 380.2,265.59 380.84,265.57 381.48,265.6 382.11,265.87 382.75,265.99 383.39,265.76 384.02,265.53 384.66,265.56 385.3,265.77 385.93,265.83 386.57,265.72 387.21,265.7 387.85,265.86 388.48,265.98 389.12,265.91 389.76,265.73 390.39,265.66 391.03,265.7 391.67,265.83 392.3,265.93 392.94,265.88 393.58,265.84 394.22,265.75 394.85,265.71 395.49,265.84 396.13,265.83 396.76,265.66 397.4,265.68 398.04,265.96 398.67,266.13 399.31,265.88 399.95,265.61 400.59,265.62 401.22,265.8 401.86,265.89 402.5,265.79 403.13,265.75 403.77,265.85 404.41,265.89 405.04,265.85 405.68,265.87 406.32,265.9 406.96,265.84 407.59,265.81 408.23,265.79 408.87,265.65 409.5,265.7 410.14,265.84 410.78,265.72 411.41,265.66 412.05,265.69 412.69,265.61 413.33,265.59 413.96,265.65 414.6,265.82 415.24,265.84 415.87,265.56 416.51,265.42 417.15,265.53 417.78,265.66 418.42,265.86 419.06,265.97 419.7,265.8 420.33,265.73 420.97,265.94 421.61,266.06 422.24,266.02 422.88,265.83 423.52,265.75 424.15,265.9 424.79,265.83 425.43,265.66 426.07,265.79 426.7,266.01 427.34,266.13 427.98,266.05 428.61,265.86 429.25,265.77 429.89,265.66 430.52,265.67 431.16,265.85 431.8,265.84 432.44,265.72 433.07,265.71 433.71,265.85 434.35,265.91 434.98,265.83 435.62,265.97 436.26,266.14 436.89,265.97 437.53,265.66 438.17,265.55 438.81,265.79 439.44,265.85 440.08,265.62 440.72,265.67 441.35,265.88 441.99,265.99 442.63,265.89 443.26,265.7 443.9,265.77 444.54,265.9 445.18,265.8 445.81,265.68 446.45,265.74 447.09,265.75 447.72,265.72 448.36,265.81 449,265.85 449.63,265.68 450.27,265.58 450.91,265.77 451.55,265.98 452.18,265.99 452.82,265.87 453.46,265.83 454.09,265.83 454.73,265.89 455.37,265.93 456,265.78 456.64,265.74 457.28,265.78 457.92,265.73 458.55,265.68 459.19,265.79 459.83,265.83 460.46,265.74 461.1,265.83 461.74,266 462.37,266.03 463.01,265.95 463.65,265.96 464.29,265.9 464.92,265.78 465.56,265.72 466.2,265.67 466.83,265.74 467.47,265.85 468.11,265.9 468.74,265.85 469.38,265.76" fill="none" stroke="#ea1c1c" stroke-width="1.7" stroke-linejoin="round"/>
<polyline points="247.71,266.6 248.34,266.56 248.98,266.47 249.62,266.5 250.25,266.66 250.89,266.68 251.53,266.52 252.16,266.42 252.8,266.47 253.44,266.55 254.08,266.57 254.71,266.49 255.35,266.41 255.99,266.41 256.62,266.44 257.26,266.42 257.9,266.34 258.53,266.35 259.17,266.37 259.81,266.24 260.45,266.13 261.08,266.17 261.72,266.27 262.36,266.38 262.99,266.37 263.63,266.36 264.27,266.47 264.9,266.43 265.54,266.24 266.18,266.14 266.82,266.22 267.45,266.39 268.09,266.45 268.73,266.34 269.36,266.2 270,266.16 270.64,266.21 271.27,266.25 271.91,266.14 272.55,266.09 273.19,266.19 273.82,266.08 274.46,265.88 275.1,265.96 275.73,266.07 276.37,266.07 277.01,266.12 277.64,266.01 278.28,265.77 278.92,265.84 279.56,266.09 280.19,265.94 280.83,265.79 281.47,265.95 282.1,265.92 282.74,265.84 283.38,265.94 284.01,265.97 284.65,266.07 285.29,266.18 285.93,266.05 286.56,265.91 287.2,265.74 287.84,265.61 288.47,265.76 289.11,265.91 289.75,265.88 290.38,265.81 291.02,265.87 291.66,266.08 292.3,266.23 292.93,266.16 293.57,265.93 294.21,265.88 294.84,265.99 295.48,266.02 296.12,266.02 296.75,266.01 297.39,265.96 298.03,265.83 298.67,265.68 299.3,265.75 299.94,265.92 300.58,265.85 301.21,265.67 301.85,265.65 302.49,265.68 303.12,265.58 303.76,265.61 304.4,265.84 305.04,266 305.67,265.95 306.31,265.79 306.95,265.76 307.58,265.84 308.22,265.77 308.86,265.64 309.49,265.66 310.13,265.63 310.77,265.56 311.41,265.72 312.04,265.63 312.68,265.34 313.32,265.43 313.95,265.59 314.59,265.54 315.23,265.36 315.86,265.14 316.5,265 317.14,264.94 317.78,264.95 318.41,264.84 319.05,264.4 319.69,263.91 320.32,263.67 320.96,263.47 321.6,263.19 322.23,262.96 322.87,262.82 323.51,262.74 324.15,262.63 324.78,262.61 325.42,262.72 326.06,262.78 326.69,262.87 327.33,263.2 327.97,263.66 328.6,263.97 329.24,264.11 329.88,264.13 330.52,263.97 331.15,263.74 331.79,263.47 332.43,263.06 333.06,262.47 333.7,261.73 334.34,260.64 334.97,259.19 335.61,257.81 336.25,256.56 336.89,255.16 337.52,253.83 338.16,252.88 338.8,252.58 339.43,253.09 340.07,254.22 340.71,255.65 341.34,257.22 341.98,258.77 342.62,260.21 343.26,261.53 343.89,262.6 344.53,263.14 345.17,263.52 345.8,264.11 346.44,264.46 347.08,264.56 347.71,264.77 348.35,264.89 348.99,264.84 349.63,264.9 350.26,265.07 350.9,265.21 351.54,265.21 352.17,265.18 352.81,265.16 353.45,265.12 354.08,265.18 354.72,265.29 355.36,265.41 356,265.51 356.63,265.42 357.27,265.39 357.91,265.55 358.54,265.63 359.18,265.64 359.82,265.66 360.45,265.56 361.09,265.55 361.73,265.65 362.37,265.55 363,265.39 363.64,265.34 364.28,265.42 364.91,265.57 365.55,265.66 366.19,265.63 366.82,265.42 367.46,265.22 368.1,265.22 368.74,265.27 369.37,265.46 370.01,265.74 370.65,265.76 371.28,265.61 371.92,265.41 372.56,265.4 373.19,265.61 373.83,265.64 374.47,265.6 375.11,265.7 375.74,265.78 376.38,265.7 377.02,265.63 377.65,265.63 378.29,265.56 378.93,265.53 379.56,265.47 380.2,265.47 380.84,265.69 381.48,265.76 382.11,265.71 382.75,265.79 383.39,265.8 384.02,265.7 384.66,265.72 385.3,265.81 385.93,265.74 386.57,265.53 387.21,265.58 387.85,265.73 388.48,265.57 389.12,265.55 389.76,265.82 390.39,265.87 391.03,265.72 391.67,265.68 392.3,265.62 392.94,265.58 393.58,265.65 394.22,265.64 394.85,265.55 395.49,265.43 396.13,265.31 396.76,265.35 397.4,265.55 398.04,265.54 398.67,265.37 399.31,265.43 399.95,265.64 400.59,265.72 401.22,265.68 401.86,265.74 402.5,265.84 403.13,265.88 403.77,265.8 404.41,265.78 405.04,265.89 405.68,265.86 406.32,265.8 406.96,265.89 407.59,265.93 408.23,265.92 408.87,265.84 409.5,265.73 410.14,265.7 410.78,265.58 411.41,265.59 412.05,265.75 412.69,265.76 413.33,265.79 413.96,265.85 414.6,265.79 415.24,265.67 415.87,265.54 416.51,265.57 417.15,265.76 417.78,265.75 418.42,265.56 419.06,265.64 419.7,265.81 420.33,265.67 420.97,265.53 421.61,265.53 422.24,265.68 422.88,265.79 423.52,265.64 424.15,265.53 424.79,265.73 425.43,265.9 426.07,265.82 426.7,265.87 427.34,265.94 427.98,265.97 428.61,266.02 429.25,265.98 429.89,265.89 430.52,265.8 431.16,265.73 431.8,265.8 432.44,265.87 433.07,265.72 433.71,265.51 434.35,265.5 434.98,265.56 435.62,265.54 436.26,265.45 436.89,265.36 437.53,265.41 438.17,265.62 438.81,265.63 439.44,265.43 440.08,265.32 440.72,265.54 441.35,265.86 441.99,266.02 442.63,266.02 443.26,265.77 443.9,265.62 444.54,265.67 445.18,265.61 445.81,265.54 446.45,265.57 447.09,265.54 447.72,265.53 448.36,265.57 449,265.59 449.63,265.69 450.27,265.75 450.91,265.61 451.55,265.56 452.18,265.6 452.82,265.54 453.46,265.6 454.09,265.77 454.73,265.79 455.37,265.78 456,265.78 456.64,265.73 457.28,265.77 457.92,265.75 458.55,265.65 459.19,265.6 459.83,265.48 460.46,265.42 461.1,265.59 461.74,265.74 462.37,265.77 463.01,265.62 463.65,265.44 464.29,265.5 464.92,265.69 465.56,265.67 466.2,265.55 466.83,265.55 467.47,265.62 468.11,265.65 468.74,265.51 469.38,265.47" fill="none" stroke="#1c1cd6" stroke-width="1.8" stroke-linejoin="round"/>
<text x="148" y="257" font-size="14">RBM</text>
<text x="344" y="203.3" font-size="14">G<tspan dy="-5.5" font-size="9.5">+</tspan></text>
<text x="317.5" y="246" font-size="14">G<tspan dy="-5.5" font-size="9.5">-</tspan></text>
</g>
<g id="pd">
<text x="26.5" y="341" font-size="16.5">(d)</text>
<rect x="50.2" y="333.8" width="189.1" height="163.2" fill="none" stroke="#333" stroke-width="1.1"/>
<line x1="57.5" y1="497" x2="57.5" y2="493.7" stroke="#333" stroke-width="1.1"/>
<line x1="57.5" y1="333.8" x2="57.5" y2="337.1" stroke="#333" stroke-width="1.1"/>
<line x1="72.6" y1="497" x2="72.6" y2="493.7" stroke="#333" stroke-width="1.1"/>
<line x1="72.6" y1="333.8" x2="72.6" y2="337.1" stroke="#333" stroke-width="1.1"/>
<line x1="87.7" y1="497" x2="87.7" y2="491" stroke="#333" stroke-width="1.1"/>
<line x1="87.7" y1="333.8" x2="87.7" y2="339.8" stroke="#333" stroke-width="1.1"/>
<line x1="102.8" y1="497" x2="102.8" y2="493.7" stroke="#333" stroke-width="1.1"/>
<line x1="102.8" y1="333.8" x2="102.8" y2="337.1" stroke="#333" stroke-width="1.1"/>
<line x1="117.9" y1="497" x2="117.9" y2="493.7" stroke="#333" stroke-width="1.1"/>
<line x1="117.9" y1="333.8" x2="117.9" y2="337.1" stroke="#333" stroke-width="1.1"/>
<line x1="133" y1="497" x2="133" y2="493.7" stroke="#333" stroke-width="1.1"/>
<line x1="133" y1="333.8" x2="133" y2="337.1" stroke="#333" stroke-width="1.1"/>
<line x1="148.1" y1="497" x2="148.1" y2="493.7" stroke="#333" stroke-width="1.1"/>
<line x1="148.1" y1="333.8" x2="148.1" y2="337.1" stroke="#333" stroke-width="1.1"/>
<line x1="163.2" y1="497" x2="163.2" y2="491" stroke="#333" stroke-width="1.1"/>
<line x1="163.2" y1="333.8" x2="163.2" y2="339.8" stroke="#333" stroke-width="1.1"/>
<line x1="178.3" y1="497" x2="178.3" y2="493.7" stroke="#333" stroke-width="1.1"/>
<line x1="178.3" y1="333.8" x2="178.3" y2="337.1" stroke="#333" stroke-width="1.1"/>
<line x1="193.4" y1="497" x2="193.4" y2="493.7" stroke="#333" stroke-width="1.1"/>
<line x1="193.4" y1="333.8" x2="193.4" y2="337.1" stroke="#333" stroke-width="1.1"/>
<line x1="208.5" y1="497" x2="208.5" y2="493.7" stroke="#333" stroke-width="1.1"/>
<line x1="208.5" y1="333.8" x2="208.5" y2="337.1" stroke="#333" stroke-width="1.1"/>
<line x1="223.6" y1="497" x2="223.6" y2="493.7" stroke="#333" stroke-width="1.1"/>
<line x1="223.6" y1="333.8" x2="223.6" y2="337.1" stroke="#333" stroke-width="1.1"/>
<line x1="238.7" y1="497" x2="238.7" y2="491" stroke="#333" stroke-width="1.1"/>
<line x1="238.7" y1="333.8" x2="238.7" y2="339.8" stroke="#333" stroke-width="1.1"/>
<line x1="50.2" y1="464.65" x2="53.5" y2="464.65" stroke="#333" stroke-width="1.1"/>
<line x1="239.3" y1="464.65" x2="236" y2="464.65" stroke="#333" stroke-width="1.1"/>
<line x1="50.2" y1="431.9" x2="56.2" y2="431.9" stroke="#333" stroke-width="1.1"/>
<line x1="239.3" y1="431.9" x2="233.3" y2="431.9" stroke="#333" stroke-width="1.1"/>
<line x1="50.2" y1="399.15" x2="53.5" y2="399.15" stroke="#333" stroke-width="1.1"/>
<line x1="239.3" y1="399.15" x2="236" y2="399.15" stroke="#333" stroke-width="1.1"/>
<line x1="50.2" y1="366.4" x2="56.2" y2="366.4" stroke="#333" stroke-width="1.1"/>
<line x1="239.3" y1="366.4" x2="233.3" y2="366.4" stroke="#333" stroke-width="1.1"/>
<text x="87.7" y="516.8" text-anchor="middle" font-size="15.2">1550</text>
<text x="163.2" y="516.8" text-anchor="middle" font-size="15.2">1600</text>
<text x="238.7" y="516.8" text-anchor="middle" font-size="15.2">1650</text>
<text x="42.9" y="502.2" text-anchor="end" font-size="15.7">200</text>
<text x="42.9" y="436.7" text-anchor="end" font-size="15.7">400</text>
<text x="42.9" y="371.2" text-anchor="end" font-size="15.7">600</text>
<text transform="translate(12.2,411.7) rotate(-90)" text-anchor="middle" font-size="15">Intensity (cts/(s*mW))</text>
<text x="89.5" y="537.4" font-size="14.3">Raman Shift (cm<tspan dy="-5" font-size="9.5">-1</tspan><tspan dy="5">)</tspan></text>
<line x1="195.5" y1="368" x2="195.5" y2="468" stroke="#333" stroke-width="0.8"/>
<polygon points="195.5,362.5 193.3,369 197.7,369" fill="#111"/>
<polyline points="50.4,441.1 51.16,443.66 51.91,442.36 52.67,441.72 53.42,441.49 54.18,442.23 54.93,442.45 55.69,441.61 56.44,439.16 57.2,446.06 57.95,444.76 58.71,445.1 59.46,443.35 60.22,445.48 60.97,440.82 61.73,441.74 62.48,442.44 63.24,443.3 63.99,441.58 64.75,441.53 65.5,441.21 66.26,443.35 67.01,440.54 67.77,444.83 68.52,439.29 69.28,448.07 70.03,443.01 70.79,444.23 71.54,440.17 72.3,444.77 73.05,438.04 73.81,444.86 74.56,437.59 75.32,440.78 76.07,441.61 76.83,440.76 77.58,437.18 78.34,439.79 79.09,446.12 79.85,439.13 80.6,441.06 81.36,444.79 82.11,439.93 82.87,443.9 83.62,441.04 84.38,440.91 85.13,442.66 85.89,439.99 86.64,443.34 87.4,440.83 88.15,442.28 88.91,441.49 89.66,437.16 90.42,440.78 91.17,443.15 91.93,441.11 92.68,442.35 93.44,440.64 94.19,440.27 94.95,440.31 95.7,440.18 96.46,441.3 97.21,439.1 97.97,437.66 98.72,440.83 99.48,439.41 100.23,438.85 100.99,436.05 101.74,435.98 102.5,439.17 103.25,437 104.01,439.57 104.76,437.81 105.52,435.07 106.27,433 107.03,431.45 107.78,433.08 108.54,434.2 109.29,429.62 110.05,429.74 110.8,427.49 111.56,427.03 112.31,424.98 113.07,424.29 113.82,423.24 114.58,425.41 115.33,422.19 116.09,425.2 116.84,424.19 117.6,420.98 118.35,424.6 119.11,428.41 119.86,423.82 120.62,425.69 121.37,426.3 122.13,429.11 122.88,429.68 123.64,431.68 124.39,433.4 125.15,429.57 125.9,434.05 126.66,434.82 127.41,435.2 128.17,430.89 128.92,433.18 129.68,435.91 130.43,435.38 131.19,434.29 131.94,433.5 132.7,438.43 133.45,433.1 134.21,435.06 134.96,435.58 135.72,434.41 136.47,431.28 137.23,428.39 137.98,430.49 138.74,428.19 139.49,429.13 140.25,424.21 141,420.76 141.76,422.1 142.51,416.14 143.27,408.85 144.02,408.7 144.78,399.93 145.53,391.45 146.29,389.24 147.04,379.67 147.8,372.15 148.55,364.71 149.31,364.8 150.06,357.51 150.82,358.75 151.57,358.46 152.33,361.51 153.08,367.1 153.84,371.18 154.59,380.14 155.35,383.65 156.1,386.99 156.86,389.41 157.61,390.31 158.37,399.14 159.12,399.35 159.88,404.48 160.63,408 161.39,404.8 162.14,410.49 162.9,410.16 163.65,413.74 164.41,420.54 165.16,424.79 165.92,419.02 166.67,426.07 167.43,429.42 168.18,427.36 168.94,429.99 169.69,432.96 170.45,433.48 171.2,433.49 171.96,434.56 172.71,433.96 173.47,436.89 174.22,437.44 174.98,436.03 175.73,437.04 176.49,435.82 177.24,438.87 178,438.84 178.75,441.24 179.51,436.06 180.26,442.13 181.02,439.06 181.77,441.44 182.53,439.08 183.28,438.39 184.04,443.35 184.79,440.55 185.55,443.8 186.3,437.47 187.06,441.31 187.81,443.7 188.57,442 189.32,437.98 190.08,437.69 190.83,438.2 191.59,442.43 192.34,441.2 193.1,437.63 193.85,442.48 194.61,441.73 195.36,443.03 196.12,443.5 196.87,438.73 197.63,439.94 198.38,440.34 199.14,440.11 199.89,439.25 200.65,438.29 201.4,441.4 202.16,442.11 202.91,443.52 203.67,439.27 204.42,442.54 205.18,444.56 205.93,442.09 206.69,441.52 207.44,439.9 208.2,439.57 208.95,443.11 209.71,443.27 210.46,442.33 211.22,444.15 211.97,441.93 212.73,440.78 213.48,441.65 214.24,445.03 214.99,444.19 215.75,439.17 216.5,443.85 217.26,440.31 218.01,440.54 218.77,442.49 219.52,443.87 220.28,441.43 221.03,443.67 221.79,442.23 222.54,441.67 223.3,443.35 224.05,442.37 224.81,442.54 225.56,444.44 226.32,442.32 227.07,443.24 227.83,445.66 228.58,442.65 229.34,442.54 230.09,443.2 230.85,446.17 231.6,440.42 232.36,440.61 233.11,440.68 233.87,441.35 234.62,444.57 235.38,441.78 236.13,443.92 236.89,437.6 237.64,443.1 238.4,440.69" fill="none" stroke="#e42a18" stroke-width="0.9" stroke-linejoin="round"/>
<polyline points="50.4,445.54 51.16,444.78 51.91,443.47 52.67,440.95 53.42,441.26 54.18,441.78 54.93,446.12 55.69,440.05 56.44,444.22 57.2,439.05 57.95,438.54 58.71,440.64 59.46,440.3 60.22,444.86 60.97,437.05 61.73,441.84 62.48,440.24 63.24,444.01 63.99,442.39 64.75,444.66 65.5,442.72 66.26,442.19 67.01,441.69 67.77,439.37 68.52,441.21 69.28,441.68 70.03,442.09 70.79,438.07 71.54,443.31 72.3,439.71 73.05,446.09 73.81,443.87 74.56,441.24 75.32,442.38 76.07,435.93 76.83,436.78 77.58,445.08 78.34,444.15 79.09,442.24 79.85,438.4 80.6,439.6 81.36,441.22 82.11,444.72 82.87,443.54 83.62,447.24 84.38,444.88 85.13,440.86 85.89,440.08 86.64,444.29 87.4,441.39 88.15,438.26 88.91,441.18 89.66,442.08 90.42,440.16 91.17,440.27 91.93,441.11 92.68,442.28 93.44,441.97 94.19,440.83 94.95,442.02 95.7,438.07 96.46,438.82 97.21,438.25 97.97,436.15 98.72,436.83 99.48,436.9 100.23,438.72 100.99,439.52 101.74,434.05 102.5,439.64 103.25,439.01 104.01,438.94 104.76,436.09 105.52,434.97 106.27,432.95 107.03,434.66 107.78,436.84 108.54,431.73 109.29,429.43 110.05,430.36 110.8,429.72 111.56,427.37 112.31,424.73 113.07,427 113.82,429.13 114.58,426.94 115.33,425.88 116.09,429.16 116.84,424.12 117.6,427.61 118.35,425.56 119.11,426.87 119.86,428.66 120.62,425.55 121.37,430.84 122.13,431.91 122.88,430.77 123.64,430.45 124.39,432.88 125.15,435.53 125.9,432.72 126.66,433.41 127.41,430.86 128.17,435.87 128.92,435.26 129.68,437.04 130.43,439.03 131.19,435.89 131.94,434.28 132.7,437.94 133.45,437.05 134.21,437.76 134.96,432.25 135.72,435.72 136.47,432.57 137.23,434.62 137.98,431.61 138.74,431.64 139.49,433.4 140.25,426.33 141,422.79 141.76,424.93 142.51,417.29 143.27,413.43 144.02,409.71 144.78,402.4 145.53,399.69 146.29,388.76 147.04,380.3 147.8,379.03 148.55,371.18 149.31,364.07 150.06,364.41 150.82,365.35 151.57,367.58 152.33,368.19 153.08,372.52 153.84,375.1 154.59,383.67 155.35,382.46 156.1,389.27 156.86,390.7 157.61,396.78 158.37,401.07 159.12,402.59 159.88,406.31 160.63,408 161.39,408.73 162.14,410.59 162.9,415 163.65,419.02 164.41,421.22 165.16,421.33 165.92,422.3 166.67,427.18 167.43,428.52 168.18,431.37 168.94,430.84 169.69,430.58 170.45,439.54 171.2,434.1 171.96,436.59 172.71,440.93 173.47,436.2 174.22,437.57 174.98,437.11 175.73,441.04 176.49,434.27 177.24,438.69 178,439.88 178.75,436.32 179.51,438.29 180.26,438.11 181.02,437.6 181.77,444.31 182.53,436.85 183.28,441.07 184.04,439.9 184.79,438.71 185.55,442.12 186.3,440.12 187.06,439.3 187.81,441.01 188.57,439.99 189.32,444.33 190.08,443.55 190.83,443.53 191.59,440.5 192.34,433.7 193.1,440.82 193.85,441.7 194.61,441.58 195.36,439.5 196.12,440.08 196.87,443.9 197.63,439.54 198.38,441.69 199.14,440.01 199.89,445.77 200.65,444.9 201.4,440.56 202.16,445.45 202.91,441.03 203.67,441.16 204.42,441.58 205.18,441.17 205.93,441.38 206.69,441.03 207.44,442.79 208.2,442.02 208.95,436.05 209.71,439.71 210.46,440.79 211.22,441.26 211.97,443.55 212.73,441.62 213.48,442.6 214.24,440.19 214.99,443.98 215.75,446.94 216.5,443.29 217.26,440.75 218.01,437.19 218.77,440.11 219.52,444.19 220.28,442.66 221.03,444.15 221.79,442.61 222.54,444.06 223.3,445.59 224.05,441.36 224.81,441.87 225.56,442.63 226.32,441.58 227.07,438.17 227.83,442.07 228.58,443.08 229.34,440.56 230.09,445.66 230.85,440.8 231.6,443.91 232.36,444.01 233.11,442.13 233.87,438.96 234.62,443.88 235.38,440.44 236.13,441.61 236.89,445.21 237.64,440.53 238.4,444.07" fill="none" stroke="#ee4012" stroke-width="0.9" stroke-linejoin="round"/>
<polyline points="50.4,445.73 51.16,444.34 51.91,444.21 52.67,441.52 53.42,444.2 54.18,439.68 54.93,442.26 55.69,444.16 56.44,444.39 57.2,442.22 57.95,446.8 58.71,447.09 59.46,444.46 60.22,441.38 60.97,442.29 61.73,442.6 62.48,443.07 63.24,447.05 63.99,443.27 64.75,446.21 65.5,440.9 66.26,442.6 67.01,442.76 67.77,441.75 68.52,441.9 69.28,442.07 70.03,441.82 70.79,443.71 71.54,445.21 72.3,441.8 73.05,439.54 73.81,440.41 74.56,442.88 75.32,441.18 76.07,443.3 76.83,441.61 77.58,443.61 78.34,442.07 79.09,438.27 79.85,440.74 80.6,439.25 81.36,443.84 82.11,443.63 82.87,442.29 83.62,441.05 84.38,442.58 85.13,440.07 85.89,443.21 86.64,439.29 87.4,440.05 88.15,444.24 88.91,440.75 89.66,442.34 90.42,439.76 91.17,442.86 91.93,441.08 92.68,440.53 93.44,447.15 94.19,445.28 94.95,441.1 95.7,441.5 96.46,439.05 97.21,440.49 97.97,443.35 98.72,439.89 99.48,441.84 100.23,440.5 100.99,440.74 101.74,438.63 102.5,441.8 103.25,440.71 104.01,442.41 104.76,432.94 105.52,438.66 106.27,437.66 107.03,437.47 107.78,435.61 108.54,434.32 109.29,431.28 110.05,431.25 110.8,430.03 111.56,431.02 112.31,429.16 113.07,425.82 113.82,427.76 114.58,426.67 115.33,431.18 116.09,425.98 116.84,426.66 117.6,424.92 118.35,433.63 119.11,428.62 119.86,429.64 120.62,429.99 121.37,432.23 122.13,431.32 122.88,431.08 123.64,433.15 124.39,434.51 125.15,434.96 125.9,435.87 126.66,435.48 127.41,437.42 128.17,440.34 128.92,433.8 129.68,440.3 130.43,437.09 131.19,439.53 131.94,437.43 132.7,438.7 133.45,436.63 134.21,437.97 134.96,438.52 135.72,434.76 136.47,432.04 137.23,433.24 137.98,432.69 138.74,433.75 139.49,430.17 140.25,427.1 141,426.89 141.76,420.79 142.51,419.2 143.27,414.31 144.02,411.36 144.78,406.11 145.53,398.95 146.29,392.58 147.04,386.55 147.8,383.52 148.55,377.89 149.31,372.65 150.06,374.23 150.82,368.01 151.57,370.82 152.33,374 153.08,378.99 153.84,379.71 154.59,385.85 155.35,385.22 156.1,391.83 156.86,398.95 157.61,397.53 158.37,402.99 159.12,405.78 159.88,407.94 160.63,410.38 161.39,412.22 162.14,413.73 162.9,416.81 163.65,421.54 164.41,425.03 165.16,426.01 165.92,425.57 166.67,426.32 167.43,426.05 168.18,433.91 168.94,432.33 169.69,434.14 170.45,435.53 171.2,435.34 171.96,436.92 172.71,437.64 173.47,439 174.22,437.4 174.98,436.5 175.73,435.7 176.49,440.41 177.24,441.76 178,440.4 178.75,441.78 179.51,438.19 180.26,442.11 181.02,440.45 181.77,443.46 182.53,441.57 183.28,440.58 184.04,437.97 184.79,442.58 185.55,440.51 186.3,445.57 187.06,443.88 187.81,443.15 188.57,442.58 189.32,440.76 190.08,440.41 190.83,445.02 191.59,440.73 192.34,444.12 193.1,438.18 193.85,441.31 194.61,441.68 195.36,442.39 196.12,442.14 196.87,442.1 197.63,443.54 198.38,440.66 199.14,441.66 199.89,440.71 200.65,442.39 201.4,440.91 202.16,443.85 202.91,435.11 203.67,443.81 204.42,443.29 205.18,440.46 205.93,439.93 206.69,444.07 207.44,445.85 208.2,445.33 208.95,444.52 209.71,444.12 210.46,442.87 211.22,440.46 211.97,440.38 212.73,443.83 213.48,441.5 214.24,440.82 214.99,439.78 215.75,442.96 216.5,444.16 217.26,441.14 218.01,439.6 218.77,443.75 219.52,438.74 220.28,439.22 221.03,443.25 221.79,445.91 222.54,443.95 223.3,443.46 224.05,441.68 224.81,446.16 225.56,437.84 226.32,438.03 227.07,444.26 227.83,446.58 228.58,443.15 229.34,441.95 230.09,440.09 230.85,441.38 231.6,443.24 232.36,446.84 233.11,441.81 233.87,441.14 234.62,443.49 235.38,442.31 236.13,442.46 236.89,443.37 237.64,445.23 238.4,442.19" fill="none" stroke="#f45a10" stroke-width="0.9" stroke-linejoin="round"/>
<polyline points="50.4,446.12 51.16,440.39 51.91,445.06 52.67,442.23 53.42,444.7 54.18,442.45 54.93,443.64 55.69,442.12 56.44,444.81 57.2,446.51 57.95,443.76 58.71,443.9 59.46,446.23 60.22,444.57 60.97,446.56 61.73,442.92 62.48,443.91 63.24,443.11 63.99,437.85 64.75,442.8 65.5,442.36 66.26,441.83 67.01,443.38 67.77,444.29 68.52,441.29 69.28,440.98 70.03,448.98 70.79,443.37 71.54,443.72 72.3,444.17 73.05,440.49 73.81,444.08 74.56,441.23 75.32,444.07 76.07,443.78 76.83,441.46 77.58,444.42 78.34,443.23 79.09,445.12 79.85,444.66 80.6,441.38 81.36,441.63 82.11,445.12 82.87,445.18 83.62,437.58 84.38,444.03 85.13,444.46 85.89,441.63 86.64,444.21 87.4,443.34 88.15,440.75 88.91,440.49 89.66,442.88 90.42,439.71 91.17,442.67 91.93,442.81 92.68,442.27 93.44,442.81 94.19,441.03 94.95,441.43 95.7,443.47 96.46,441.41 97.21,442.74 97.97,442.64 98.72,441.56 99.48,438.99 100.23,440.24 100.99,437.93 101.74,437 102.5,439.85 103.25,440.58 104.01,440.46 104.76,437.75 105.52,435.95 106.27,433.84 107.03,439 107.78,433.72 108.54,432.63 109.29,429.04 110.05,432.77 110.8,432.39 111.56,434.61 112.31,432.37 113.07,432.38 113.82,431.66 114.58,431.05 115.33,432.13 116.09,429.17 116.84,428.35 117.6,427.9 118.35,430.09 119.11,428.32 119.86,428.95 120.62,434.88 121.37,433.07 122.13,435.77 122.88,435.91 123.64,434.21 124.39,435.45 125.15,432.78 125.9,432.09 126.66,435.83 127.41,437.43 128.17,437.64 128.92,437.6 129.68,436.57 130.43,439.32 131.19,436.68 131.94,438.32 132.7,435.58 133.45,434.78 134.21,433.76 134.96,437.26 135.72,439.23 136.47,439.33 137.23,435.76 137.98,437.11 138.74,436.4 139.49,432.3 140.25,431.77 141,426.15 141.76,420.94 142.51,422.16 143.27,417.35 144.02,416.94 144.78,408.62 145.53,405.22 146.29,400.55 147.04,396.55 147.8,384.25 148.55,386.19 149.31,381.93 150.06,377.5 150.82,376.63 151.57,377.83 152.33,380.58 153.08,385.75 153.84,385.86 154.59,390.57 155.35,397.34 156.1,394.36 156.86,401.3 157.61,401.48 158.37,409 159.12,411 159.88,412.22 160.63,414.88 161.39,413.79 162.14,421.45 162.9,420.04 163.65,424.56 164.41,423.46 165.16,425.98 165.92,429.27 166.67,425.25 167.43,431.33 168.18,430.34 168.94,436.46 169.69,435.08 170.45,435.59 171.2,436.31 171.96,438.01 172.71,439.62 173.47,444.75 174.22,440.09 174.98,441.19 175.73,440.19 176.49,438.22 177.24,435.72 178,439.36 178.75,438.57 179.51,439.53 180.26,439.48 181.02,439.89 181.77,441.75 182.53,441.99 183.28,440.75 184.04,437.87 184.79,440.02 185.55,438.41 186.3,444.39 187.06,441.29 187.81,441.08 188.57,440.89 189.32,444.79 190.08,445.8 190.83,446.42 191.59,442.97 192.34,437.44 193.1,441.8 193.85,444.74 194.61,441.63 195.36,442.97 196.12,442.04 196.87,443.34 197.63,445.08 198.38,443.56 199.14,441.05 199.89,441.91 200.65,440.07 201.4,444.75 202.16,440.46 202.91,442.49 203.67,442.24 204.42,440.11 205.18,442.93 205.93,442.16 206.69,441.39 207.44,441.39 208.2,441.06 208.95,440.11 209.71,441.66 210.46,443.64 211.22,437.79 211.97,442.83 212.73,442.01 213.48,444.3 214.24,447.23 214.99,444.39 215.75,442.69 216.5,441.75 217.26,442.78 218.01,441.23 218.77,440.84 219.52,440.86 220.28,442.86 221.03,442.71 221.79,443.32 222.54,444.67 223.3,440 224.05,445.43 224.81,443.06 225.56,442.46 226.32,447.27 227.07,441.42 227.83,443.65 228.58,442.49 229.34,443.62 230.09,446.07 230.85,442.56 231.6,442.75 232.36,440.95 233.11,442.02 233.87,446.4 234.62,440.75 235.38,441.38 236.13,441.44 236.89,442.02 237.64,444.44 238.4,441.93" fill="none" stroke="#f87410" stroke-width="0.9" stroke-linejoin="round"/>
<polyline points="50.4,444.27 51.16,437.67 51.91,444 52.67,445.77 53.42,444.2 54.18,440.58 54.93,444.66 55.69,448.45 56.44,440.5 57.2,442.82 57.95,444.48 58.71,442.02 59.46,445.34 60.22,445.84 60.97,441.52 61.73,444.49 62.48,442.36 63.24,443.41 63.99,441.73 64.75,443.19 65.5,447.57 66.26,442.02 67.01,444.35 67.77,441.59 68.52,443.14 69.28,440.47 70.03,443.99 70.79,447.52 71.54,443.98 72.3,442.28 73.05,444.01 73.81,444.25 74.56,440.29 75.32,443.58 76.07,441.12 76.83,442.94 77.58,446.17 78.34,445.13 79.09,443.84 79.85,442.56 80.6,444.81 81.36,446.01 82.11,445.18 82.87,444.16 83.62,444.88 84.38,444.24 85.13,439.25 85.89,442.43 86.64,444.63 87.4,442.96 88.15,439.71 88.91,441.56 89.66,443.04 90.42,445.55 91.17,446.2 91.93,443.39 92.68,442.85 93.44,445.87 94.19,445.22 94.95,442.5 95.7,446.83 96.46,445.71 97.21,442.19 97.97,440.8 98.72,441.12 99.48,439.54 100.23,438.13 100.99,439.25 101.74,441.31 102.5,436.09 103.25,436.61 104.01,437.68 104.76,440.74 105.52,437.74 106.27,442.22 107.03,438 107.78,441.7 108.54,436.79 109.29,433.12 110.05,434.42 110.8,430.43 111.56,433 112.31,432.13 113.07,432.36 113.82,430.19 114.58,430.99 115.33,428.29 116.09,427.43 116.84,430.08 117.6,433.4 118.35,430.39 119.11,429.28 119.86,431.29 120.62,432.64 121.37,431.97 122.13,431.84 122.88,440.45 123.64,432.65 124.39,434.71 125.15,435.8 125.9,438.36 126.66,437.16 127.41,436.71 128.17,441.23 128.92,436.9 129.68,438.42 130.43,435.67 131.19,437.31 131.94,439.01 132.7,438.45 133.45,437.1 134.21,437.87 134.96,436.75 135.72,438.9 136.47,439.47 137.23,437.43 137.98,438.33 138.74,435.95 139.49,432.33 140.25,434.74 141,431.93 141.76,425.54 142.51,425.26 143.27,420.87 144.02,419.55 144.78,414.89 145.53,408.73 146.29,399.88 147.04,397.31 147.8,396.88 148.55,388.46 149.31,384.4 150.06,383.12 150.82,386.73 151.57,385.47 152.33,383.16 153.08,392.18 153.84,392.74 154.59,398.13 155.35,402.26 156.1,403.45 156.86,403.17 157.61,405.42 158.37,411.94 159.12,413.39 159.88,416.45 160.63,421.04 161.39,417.72 162.14,417.86 162.9,419.97 163.65,425.87 164.41,424.04 165.16,426.21 165.92,430.68 166.67,431.45 167.43,433.51 168.18,433.48 168.94,431.35 169.69,437.87 170.45,439.26 171.2,435.8 171.96,438.1 172.71,442.62 173.47,441.32 174.22,441.35 174.98,441.27 175.73,439.68 176.49,438.58 177.24,441.16 178,440.73 178.75,442.71 179.51,439.28 180.26,438.77 181.02,442.15 181.77,443.23 182.53,437.62 183.28,440.04 184.04,443.82 184.79,445.52 185.55,442.75 186.3,439.79 187.06,443.39 187.81,442.84 188.57,443.4 189.32,441.13 190.08,439.66 190.83,445.1 191.59,443.17 192.34,443.03 193.1,443.93 193.85,445.13 194.61,441.06 195.36,442.45 196.12,441.33 196.87,439.74 197.63,443.59 198.38,441.78 199.14,443.72 199.89,443.1 200.65,442.27 201.4,443.3 202.16,446.06 202.91,439.94 203.67,442.72 204.42,445.37 205.18,447.55 205.93,443.13 206.69,441.77 207.44,441.06 208.2,440.85 208.95,443.91 209.71,441.84 210.46,446.3 211.22,442.87 211.97,441.33 212.73,444.44 213.48,443.54 214.24,443.01 214.99,442.95 215.75,440.21 216.5,445.45 217.26,440.54 218.01,445.81 218.77,444.64 219.52,444.87 220.28,443.47 221.03,444.31 221.79,442.33 222.54,443.3 223.3,438.85 224.05,442.55 224.81,443.85 225.56,442.59 226.32,442.14 227.07,443.75 227.83,445.63 228.58,445.01 229.34,443.02 230.09,441.69 230.85,442.41 231.6,443.57 232.36,442.25 233.11,444.4 233.87,442.88 234.62,440.52 235.38,441.15 236.13,440.67 236.89,444.18 237.64,443.02 238.4,445.49" fill="none" stroke="#fb8c14" stroke-width="0.9" stroke-linejoin="round"/>
<polyline points="50.4,442.09 51.16,444.81 51.91,446.63 52.67,444.95 53.42,443.42 54.18,448.42 54.93,446.81 55.69,441.92 56.44,443.73 57.2,444.01 57.95,447.18 58.71,440.69 59.46,441.82 60.22,442.47 60.97,446.15 61.73,442.71 62.48,441.56 63.24,444.54 63.99,444.37 64.75,444.82 65.5,442.64 66.26,444.33 67.01,444.49 67.77,446.79 68.52,447.2 69.28,441.91 70.03,440.61 70.79,442.05 71.54,440.91 72.3,444.88 73.05,443.87 73.81,443.01 74.56,444.09 75.32,440.35 76.07,446.43 76.83,444.88 77.58,444.41 78.34,445.13 79.09,441.96 79.85,447.71 80.6,441.34 81.36,441.79 82.11,442.97 82.87,440.75 83.62,438.8 84.38,443.17 85.13,442.04 85.89,442.69 86.64,442.4 87.4,444.46 88.15,444.86 88.91,442.13 89.66,444.39 90.42,441.4 91.17,441.63 91.93,444.1 92.68,442.41 93.44,442.93 94.19,443.3 94.95,440.64 95.7,442.77 96.46,442.28 97.21,446.58 97.97,441.3 98.72,445.28 99.48,442.96 100.23,438.71 100.99,438.12 101.74,442.26 102.5,443.71 103.25,440 104.01,441.23 104.76,439.3 105.52,442.24 106.27,436.72 107.03,435.28 107.78,440.76 108.54,438.76 109.29,437.95 110.05,434.39 110.8,439.21 111.56,434.17 112.31,434.47 113.07,435.09 113.82,431.64 114.58,436.72 115.33,435.37 116.09,434.15 116.84,431.24 117.6,433.64 118.35,434.98 119.11,432.77 119.86,435.23 120.62,436.12 121.37,435.99 122.13,435.26 122.88,431.03 123.64,439.23 124.39,436.94 125.15,438.26 125.9,438.87 126.66,435.6 127.41,437.4 128.17,437.85 128.92,440.31 129.68,441.24 130.43,439 131.19,440.2 131.94,440.75 132.7,438.14 133.45,441.81 134.21,440.63 134.96,437.28 135.72,438.69 136.47,436.7 137.23,439.19 137.98,435.29 138.74,437.22 139.49,431.86 140.25,431.56 141,430.46 141.76,426.15 142.51,426.03 143.27,425.07 144.02,417.25 144.78,415.91 145.53,410.01 146.29,407.81 147.04,401.35 147.8,401.27 148.55,398.43 149.31,395.97 150.06,390.02 150.82,395.31 151.57,395.9 152.33,397.05 153.08,396.19 153.84,398.55 154.59,403.92 155.35,403.39 156.1,406.91 156.86,407.48 157.61,410.24 158.37,415.66 159.12,415.88 159.88,418.58 160.63,419.24 161.39,421.65 162.14,423.84 162.9,424.22 163.65,427.23 164.41,427.47 165.16,430.38 165.92,432.17 166.67,431.26 167.43,432.37 168.18,432.85 168.94,435.04 169.69,437.6 170.45,437.53 171.2,438.25 171.96,442.71 172.71,441.91 173.47,436.98 174.22,440.55 174.98,446.53 175.73,441.26 176.49,440.93 177.24,443.95 178,437.03 178.75,439.52 179.51,440.29 180.26,442.44 181.02,441.19 181.77,440.56 182.53,441.39 183.28,443.8 184.04,442.13 184.79,442.32 185.55,442.06 186.3,444.83 187.06,442.24 187.81,442.83 188.57,442.41 189.32,442.52 190.08,445.89 190.83,441.29 191.59,441.55 192.34,445.82 193.1,443.33 193.85,444.9 194.61,444.12 195.36,441.21 196.12,442.2 196.87,439.29 197.63,443.14 198.38,445.62 199.14,443.15 199.89,448.35 200.65,439.83 201.4,442.93 202.16,442.58 202.91,443.2 203.67,445.26 204.42,443.8 205.18,445.16 205.93,444.63 206.69,442.95 207.44,446.08 208.2,440.34 208.95,445.84 209.71,442.02 210.46,445.01 211.22,446.26 211.97,442.98 212.73,443.44 213.48,444.25 214.24,443.94 214.99,445.09 215.75,442.99 216.5,444.84 217.26,443.84 218.01,441.65 218.77,446.59 219.52,445.08 220.28,445.3 221.03,445.56 221.79,446.69 222.54,444.53 223.3,443.68 224.05,444.23 224.81,447.23 225.56,442.65 226.32,442.6 227.07,443.89 227.83,446.06 228.58,445.78 229.34,440.13 230.09,440.59 230.85,443.11 231.6,445.92 232.36,441.54 233.11,443.74 233.87,440.72 234.62,445.26 235.38,443.16 236.13,444.54 236.89,442.6 237.64,445.4 238.4,442.27" fill="none" stroke="#fda21a" stroke-width="0.9" stroke-linejoin="round"/>
<polyline points="50.4,445.42 51.16,446.44 51.91,443.49 52.67,444.16 53.42,448.9 54.18,444.71 54.93,444.42 55.69,444.24 56.44,440.48 57.2,445.91 57.95,444.64 58.71,448.03 59.46,447.54 60.22,445.75 60.97,444.86 61.73,444.99 62.48,443.3 63.24,443.1 63.99,442.53 64.75,444.9 65.5,443.57 66.26,446 67.01,443.82 67.77,443.57 68.52,445.55 69.28,451.03 70.03,445.84 70.79,439.3 71.54,444.7 72.3,445.79 73.05,444.27 73.81,442.22 74.56,443.79 75.32,444.87 76.07,447.04 76.83,445.04 77.58,446.84 78.34,443.7 79.09,441.35 79.85,442.25 80.6,445.57 81.36,446.35 82.11,447.16 82.87,443.43 83.62,443.16 84.38,442.69 85.13,443.59 85.89,446.7 86.64,448.13 87.4,441.95 88.15,445.88 88.91,440.31 89.66,448.41 90.42,446.34 91.17,445.96 91.93,443.49 92.68,442.64 93.44,445.05 94.19,442.67 94.95,446.45 95.7,444.76 96.46,446.12 97.21,444.69 97.97,444.75 98.72,442.7 99.48,436.19 100.23,445.77 100.99,443.19 101.74,441.16 102.5,442.14 103.25,439.1 104.01,443.72 104.76,439.69 105.52,442.43 106.27,438.73 107.03,439.56 107.78,438.88 108.54,440.02 109.29,442.01 110.05,439.92 110.8,435.68 111.56,437.1 112.31,434.56 113.07,438.29 113.82,433.93 114.58,432.92 115.33,439.3 116.09,434.15 116.84,430.97 117.6,436.65 118.35,433.41 119.11,435.74 119.86,434.54 120.62,437.54 121.37,438.82 122.13,438.61 122.88,438.96 123.64,439.88 124.39,440.89 125.15,437.25 125.9,441.02 126.66,442.58 127.41,442.29 128.17,439.61 128.92,445.28 129.68,439.86 130.43,439.49 131.19,438.37 131.94,441.83 132.7,442.53 133.45,440.39 134.21,440.28 134.96,437.66 135.72,439.9 136.47,440.47 137.23,441.79 137.98,438.86 138.74,437.47 139.49,434.21 140.25,435.13 141,431.07 141.76,429.43 142.51,431.3 143.27,429.48 144.02,425.51 144.78,421.4 145.53,418.96 146.29,412.1 147.04,408.3 147.8,403.56 148.55,402.27 149.31,401.33 150.06,398.26 150.82,400.72 151.57,399.42 152.33,402.91 153.08,401.19 153.84,411.36 154.59,406.7 155.35,409.01 156.1,413.12 156.86,414.43 157.61,416.64 158.37,416.26 159.12,417.29 159.88,422.34 160.63,420.73 161.39,427 162.14,426.45 162.9,427.95 163.65,432.87 164.41,431.04 165.16,434.37 165.92,432.61 166.67,437.15 167.43,439.97 168.18,439.94 168.94,438.08 169.69,438.24 170.45,438.83 171.2,441.64 171.96,438.99 172.71,442.14 173.47,441.85 174.22,439.73 174.98,442.32 175.73,446.05 176.49,440.99 177.24,442.61 178,443.55 178.75,440.29 179.51,444.3 180.26,441.81 181.02,442.95 181.77,438.04 182.53,447.05 183.28,443.07 184.04,442.83 184.79,441.36 185.55,444.5 186.3,444.99 187.06,440.93 187.81,444.66 188.57,443.27 189.32,443.98 190.08,443.14 190.83,446.69 191.59,445.09 192.34,444.13 193.1,443.83 193.85,441.85 194.61,443.07 195.36,442.96 196.12,444.27 196.87,441.62 197.63,445.43 198.38,444.41 199.14,447.26 199.89,446.39 200.65,442.55 201.4,444.39 202.16,448.07 202.91,444.41 203.67,444.82 204.42,446.66 205.18,443.69 205.93,444.93 206.69,444.38 207.44,442.5 208.2,445.67 208.95,442.25 209.71,444.99 210.46,444.98 211.22,441.85 211.97,443.71 212.73,445.31 213.48,444.73 214.24,444.07 214.99,447.46 215.75,443.17 216.5,444.54 217.26,447.16 218.01,446.46 218.77,442.8 219.52,447.12 220.28,440.21 221.03,446.74 221.79,444.16 222.54,449.76 223.3,444.74 224.05,445.66 224.81,443.63 225.56,444.23 226.32,445.3 227.07,440.27 227.83,443.08 228.58,446.13 229.34,443.95 230.09,450.52 230.85,445.86 231.6,442.16 232.36,445.82 233.11,444.4 233.87,447.04 234.62,443.11 235.38,444.48 236.13,444.72 236.89,442.83 237.64,441.41 238.4,443.12" fill="none" stroke="#feb620" stroke-width="0.9" stroke-linejoin="round"/>
<polyline points="50.4,448.76 51.16,444.44 51.91,444.71 52.67,447.57 53.42,448.52 54.18,446.08 54.93,445.85 55.69,445.38 56.44,446.73 57.2,444.93 57.95,444.65 58.71,445.83 59.46,444.46 60.22,446.43 60.97,448.42 61.73,445.24 62.48,443.44 63.24,439.74 63.99,449.53 64.75,446.24 65.5,446.98 66.26,444.65 67.01,446.98 67.77,444.93 68.52,443.17 69.28,446.69 70.03,445.31 70.79,441.88 71.54,443.35 72.3,448.43 73.05,440.92 73.81,446.5 74.56,444.49 75.32,445.94 76.07,446.01 76.83,446.48 77.58,443.81 78.34,446.63 79.09,447.6 79.85,446.18 80.6,445.02 81.36,449.07 82.11,443.38 82.87,446.43 83.62,443.49 84.38,442.13 85.13,444.28 85.89,443.81 86.64,445.79 87.4,446.22 88.15,448.68 88.91,445.2 89.66,445.89 90.42,449.56 91.17,444.16 91.93,441.6 92.68,443.82 93.44,442.24 94.19,445.09 94.95,446.55 95.7,444.29 96.46,445.05 97.21,446.57 97.97,442.06 98.72,443.7 99.48,445.24 100.23,443.35 100.99,443.87 101.74,442.1 102.5,439.88 103.25,444.11 104.01,444.98 104.76,439.42 105.52,436.99 106.27,442.68 107.03,442.86 107.78,442.99 108.54,440.08 109.29,439.35 110.05,439.58 110.8,436.85 111.56,439.72 112.31,438.81 113.07,439.76 113.82,434.07 114.58,434.47 115.33,433.87 116.09,438.21 116.84,433.87 117.6,436.19 118.35,435.6 119.11,436.23 119.86,438.45 120.62,438.56 121.37,441.78 122.13,440.2 122.88,439.98 123.64,442.26 124.39,440.09 125.15,438.04 125.9,441.94 126.66,443.16 127.41,443.15 128.17,441.23 128.92,438.21 129.68,441.51 130.43,441.79 131.19,444.44 131.94,441.23 132.7,440.57 133.45,442.56 134.21,441.63 134.96,442.7 135.72,439.6 136.47,438.03 137.23,439.51 137.98,438.68 138.74,438.88 139.49,439.39 140.25,438.54 141,436.44 141.76,433.75 142.51,432.05 143.27,427.72 144.02,425.67 144.78,421.25 145.53,419.51 146.29,418.21 147.04,414.13 147.8,414.39 148.55,404.92 149.31,407.36 150.06,405.82 150.82,401.12 151.57,407.71 152.33,408.25 153.08,409.04 153.84,412.23 154.59,413.04 155.35,414.83 156.1,416.01 156.86,419.34 157.61,419.43 158.37,423.13 159.12,422.78 159.88,423.14 160.63,430.5 161.39,428.91 162.14,429.5 162.9,435.05 163.65,438.7 164.41,433.13 165.16,436.22 165.92,434.4 166.67,437 167.43,437.9 168.18,439.4 168.94,439.22 169.69,441.91 170.45,441.7 171.2,439.57 171.96,442.11 172.71,440.96 173.47,442.33 174.22,443.28 174.98,444.79 175.73,441.35 176.49,444.91 177.24,442.63 178,446.67 178.75,443.1 179.51,442.97 180.26,445.13 181.02,447.19 181.77,444.32 182.53,443.87 183.28,445.19 184.04,445.56 184.79,442.41 185.55,444.52 186.3,445.19 187.06,442.68 187.81,444.47 188.57,445.88 189.32,442.75 190.08,445.26 190.83,442.7 191.59,445.95 192.34,443.97 193.1,442.16 193.85,443.76 194.61,443.69 195.36,443.82 196.12,443.01 196.87,444.59 197.63,443.88 198.38,445.26 199.14,440.93 199.89,446.59 200.65,443.19 201.4,446.83 202.16,443.79 202.91,442.24 203.67,447.1 204.42,441.38 205.18,446.86 205.93,446.59 206.69,444.3 207.44,447.17 208.2,443 208.95,443.99 209.71,450.45 210.46,447.86 211.22,446.46 211.97,444.18 212.73,447.18 213.48,446.49 214.24,443.8 214.99,447.05 215.75,444.47 216.5,447.81 217.26,443.07 218.01,442.23 218.77,447.39 219.52,449.84 220.28,448.48 221.03,443.19 221.79,446.27 222.54,443.02 223.3,447.82 224.05,447.03 224.81,445.39 225.56,443.02 226.32,445.6 227.07,447.23 227.83,444.57 228.58,445.01 229.34,444.18 230.09,445.54 230.85,446.44 231.6,445.15 232.36,450.16 233.11,444.67 233.87,442.74 234.62,444.1 235.38,447.12 236.13,448.29 236.89,442.58 237.64,446.24 238.4,445.65" fill="none" stroke="#ffc626" stroke-width="0.9" stroke-linejoin="round"/>
<polyline points="50.4,445.45 51.16,447.08 51.91,445.81 52.67,442.88 53.42,446.88 54.18,442.04 54.93,445.11 55.69,445.24 56.44,443.98 57.2,444.02 57.95,443.75 58.71,444.74 59.46,447.02 60.22,442.59 60.97,446.15 61.73,447.52 62.48,444.04 63.24,444.53 63.99,445.89 64.75,445.67 65.5,444.65 66.26,441.95 67.01,445.96 67.77,448.33 68.52,446.94 69.28,444.77 70.03,446.19 70.79,447.11 71.54,444.31 72.3,444.29 73.05,446.17 73.81,445.18 74.56,447.02 75.32,446.96 76.07,446.42 76.83,448.45 77.58,445.04 78.34,445.87 79.09,446.72 79.85,445.49 80.6,445.42 81.36,447.18 82.11,446.86 82.87,447.26 83.62,442.95 84.38,449.02 85.13,445.8 85.89,443.96 86.64,447.79 87.4,447.53 88.15,447.56 88.91,449.2 89.66,443.21 90.42,446.06 91.17,447.79 91.93,446.84 92.68,445.2 93.44,446.18 94.19,447.29 94.95,444.44 95.7,447.18 96.46,446.13 97.21,444.93 97.97,446.65 98.72,444.94 99.48,446.27 100.23,439.5 100.99,445.52 101.74,443.14 102.5,446.04 103.25,446.34 104.01,444.09 104.76,444.24 105.52,443.92 106.27,442.96 107.03,440.74 107.78,438.28 108.54,437.66 109.29,441.16 110.05,437.16 110.8,436.99 111.56,441.25 112.31,440.58 113.07,439.47 113.82,435.06 114.58,439.09 115.33,439.18 116.09,435.9 116.84,439.13 117.6,439.25 118.35,437.99 119.11,439.14 119.86,444.69 120.62,442.72 121.37,439.18 122.13,443.86 122.88,438.89 123.64,441.85 124.39,441.53 125.15,441.77 125.9,446.2 126.66,444.26 127.41,445.13 128.17,442.7 128.92,440.24 129.68,443.84 130.43,443.3 131.19,447.38 131.94,444.19 132.7,443.87 133.45,443.66 134.21,441.95 134.96,440.15 135.72,442.76 136.47,441.63 137.23,445.16 137.98,440.31 138.74,440.83 139.49,443.63 140.25,438.48 141,439.3 141.76,434.53 142.51,433.95 143.27,432.74 144.02,427.2 144.78,428.45 145.53,425.99 146.29,422.39 147.04,419.28 147.8,418.43 148.55,413.13 149.31,411.6 150.06,412.47 150.82,414.38 151.57,409.45 152.33,410.48 153.08,412.96 153.84,414.62 154.59,414.85 155.35,419.59 156.1,418.67 156.86,423.82 157.61,426.74 158.37,426.34 159.12,428.34 159.88,428.02 160.63,426.64 161.39,430.69 162.14,430.65 162.9,429.64 163.65,431.43 164.41,435.92 165.16,438.46 165.92,433.74 166.67,441.05 167.43,443.33 168.18,444.39 168.94,438.64 169.69,444.53 170.45,442.58 171.2,442.76 171.96,440.24 172.71,445.98 173.47,443.39 174.22,443.13 174.98,441.1 175.73,444.61 176.49,443.73 177.24,444.98 178,442.32 178.75,442.72 179.51,445.5 180.26,443.69 181.02,447.87 181.77,444.8 182.53,446.78 183.28,445.89 184.04,443.05 184.79,440.78 185.55,444.75 186.3,445.49 187.06,445.92 187.81,443.76 188.57,445.67 189.32,443.35 190.08,442.25 190.83,444.12 191.59,446.2 192.34,443.89 193.1,446.86 193.85,449.04 194.61,443.19 195.36,441.63 196.12,442.85 196.87,446.28 197.63,452.43 198.38,447.07 199.14,444.35 199.89,446.42 200.65,442.82 201.4,447.3 202.16,444.67 202.91,445.23 203.67,445.17 204.42,448.56 205.18,445.93 205.93,445.2 206.69,446.56 207.44,448.42 208.2,446.76 208.95,447.73 209.71,445.09 210.46,443.84 211.22,445.15 211.97,445.07 212.73,446.2 213.48,445.45 214.24,449.81 214.99,445.7 215.75,444.06 216.5,446.94 217.26,444.47 218.01,448.94 218.77,445.8 219.52,446.28 220.28,444.96 221.03,445.61 221.79,441.39 222.54,452.39 223.3,448.88 224.05,447.3 224.81,445.74 225.56,447.26 226.32,447.32 227.07,449.16 227.83,448.72 228.58,447.73 229.34,442.87 230.09,447.62 230.85,440.35 231.6,443.8 232.36,446.56 233.11,444.31 233.87,443.9 234.62,448.43 235.38,449.29 236.13,442.99 236.89,447.94 237.64,444.22 238.4,444.6" fill="none" stroke="#ffd52c" stroke-width="0.9" stroke-linejoin="round"/>
<polyline points="50.4,450.73 51.16,446 51.91,446.16 52.67,444.69 53.42,447.38 54.18,446.37 54.93,446.53 55.69,447.78 56.44,443.95 57.2,445.32 57.95,444.15 58.71,446.56 59.46,444.91 60.22,449.23 60.97,448.55 61.73,445.23 62.48,447.74 63.24,448.08 63.99,446.94 64.75,450.49 65.5,446.92 66.26,446.25 67.01,447.9 67.77,449.54 68.52,443.67 69.28,446.37 70.03,449.32 70.79,448.43 71.54,450.52 72.3,450.77 73.05,451.11 73.81,448.91 74.56,446.34 75.32,445.68 76.07,447.42 76.83,445.09 77.58,446.01 78.34,449.5 79.09,448.87 79.85,446.56 80.6,445.74 81.36,444.91 82.11,449.91 82.87,451.06 83.62,442.97 84.38,447.64 85.13,445.01 85.89,446.96 86.64,449.84 87.4,444.14 88.15,446.02 88.91,443.94 89.66,445.69 90.42,448.92 91.17,446.96 91.93,444.81 92.68,448.23 93.44,446.4 94.19,444.37 94.95,449.22 95.7,447.41 96.46,446.23 97.21,444.57 97.97,446.64 98.72,447.81 99.48,445.11 100.23,447.38 100.99,445.14 101.74,445.11 102.5,446.06 103.25,443.71 104.01,442.83 104.76,447.65 105.52,443.65 106.27,444.74 107.03,444.69 107.78,443.56 108.54,440.97 109.29,443.29 110.05,443.27 110.8,444.79 111.56,442.21 112.31,441.53 113.07,443.17 113.82,441.6 114.58,439.83 115.33,437.88 116.09,441.26 116.84,436.69 117.6,438.86 118.35,439.32 119.11,440.13 119.86,441.42 120.62,443.22 121.37,442.4 122.13,442.46 122.88,442.57 123.64,440.06 124.39,439.39 125.15,442.62 125.9,441.9 126.66,445.52 127.41,448.32 128.17,444.62 128.92,444.02 129.68,441.74 130.43,439.72 131.19,444.1 131.94,441.97 132.7,442.31 133.45,444.05 134.21,442.69 134.96,443.43 135.72,440.84 136.47,445.87 137.23,448.09 137.98,442.69 138.74,440.54 139.49,439.61 140.25,442.06 141,438.79 141.76,440 142.51,435.83 143.27,437.04 144.02,435.76 144.78,429.49 145.53,431.58 146.29,429.52 147.04,422.39 147.8,421.38 148.55,424.19 149.31,415.51 150.06,419.52 150.82,417.81 151.57,417.67 152.33,414.43 153.08,420 153.84,419.71 154.59,423.45 155.35,423.7 156.1,429.07 156.86,427.58 157.61,430.1 158.37,432.12 159.12,430.62 159.88,430.25 160.63,432.5 161.39,435.19 162.14,434.11 162.9,438.87 163.65,436.94 164.41,437.45 165.16,439.55 165.92,440.69 166.67,440.66 167.43,442.73 168.18,442.64 168.94,441.25 169.69,447.13 170.45,441.13 171.2,443.11 171.96,443.93 172.71,446.69 173.47,445.74 174.22,446.32 174.98,443.92 175.73,444.18 176.49,443.25 177.24,445.59 178,449.91 178.75,447.86 179.51,446.74 180.26,445.4 181.02,449.18 181.77,446.6 182.53,446.12 183.28,447.51 184.04,446.73 184.79,441.79 185.55,446.47 186.3,442.47 187.06,446.02 187.81,447.97 188.57,445.45 189.32,447.43 190.08,446.76 190.83,451.19 191.59,445.97 192.34,447.88 193.1,444.44 193.85,446.52 194.61,447.54 195.36,448.91 196.12,446.76 196.87,447.58 197.63,448.41 198.38,443.08 199.14,447.17 199.89,445.08 200.65,443.94 201.4,446.1 202.16,445.66 202.91,445.92 203.67,445.01 204.42,445.8 205.18,445.96 205.93,446.7 206.69,447.96 207.44,447.87 208.2,448.29 208.95,446.62 209.71,444.38 210.46,448.93 211.22,448.26 211.97,449.02 212.73,447.16 213.48,444.99 214.24,447.73 214.99,446.45 215.75,451.74 216.5,447.38 217.26,446.11 218.01,448.33 218.77,450.37 219.52,446.18 220.28,447.32 221.03,443.47 221.79,448.28 222.54,447.43 223.3,447.89 224.05,446.92 224.81,450.78 225.56,444.4 226.32,445.85 227.07,447.6 227.83,447.86 228.58,446.1 229.34,446.42 230.09,447.99 230.85,447.49 231.6,446.46 232.36,448.01 233.11,447.82 233.87,448.01 234.62,447.88 235.38,449.77 236.13,449.06 236.89,446.43 237.64,445.59 238.4,447.28" fill="none" stroke="#3030ea" stroke-width="1.05" stroke-linejoin="round"/>
<polyline points="50.4,455.01 51.16,450.8 51.91,447.01 52.67,444.44 53.42,445.4 54.18,448.23 54.93,448.52 55.69,448.67 56.44,444.33 57.2,447.34 57.95,449.65 58.71,445.89 59.46,446.13 60.22,451.83 60.97,449.05 61.73,445.76 62.48,445.95 63.24,450.26 63.99,447.77 64.75,446 65.5,447.07 66.26,449.85 67.01,448.11 67.77,446.41 68.52,446.75 69.28,449.65 70.03,443.03 70.79,447.27 71.54,450.71 72.3,448.36 73.05,453.18 73.81,449.06 74.56,447.76 75.32,442.85 76.07,447.27 76.83,446.91 77.58,446.12 78.34,447.21 79.09,448.81 79.85,444.89 80.6,446.56 81.36,444.5 82.11,445.52 82.87,449.43 83.62,448.46 84.38,448.34 85.13,448.29 85.89,446.61 86.64,447.84 87.4,449.06 88.15,444.53 88.91,444.72 89.66,447.34 90.42,449.5 91.17,448.6 91.93,448.85 92.68,449.09 93.44,449.22 94.19,446.77 94.95,446.61 95.7,446.3 96.46,448.96 97.21,446.45 97.97,443.01 98.72,446.42 99.48,447.57 100.23,441.25 100.99,445.93 101.74,447.65 102.5,444.48 103.25,447.46 104.01,446.55 104.76,443.59 105.52,446.55 106.27,448 107.03,443.34 107.78,442.75 108.54,446.81 109.29,444.41 110.05,441.2 110.8,442.5 111.56,440.99 112.31,442.57 113.07,443.3 113.82,442.93 114.58,442.26 115.33,441.2 116.09,446.9 116.84,445.41 117.6,441.72 118.35,440.6 119.11,443.48 119.86,442.43 120.62,444.89 121.37,445.8 122.13,443.05 122.88,443.8 123.64,444.96 124.39,446.8 125.15,444.31 125.9,444.8 126.66,445.37 127.41,445.26 128.17,445.88 128.92,444.22 129.68,444.54 130.43,441.84 131.19,442.61 131.94,445.47 132.7,447.77 133.45,444.02 134.21,446.35 134.96,442.01 135.72,447.76 136.47,445.43 137.23,441.22 137.98,443.85 138.74,441.92 139.49,441.41 140.25,442.9 141,439.32 141.76,441.54 142.51,439.09 143.27,432.66 144.02,435.37 144.78,432.22 145.53,432.83 146.29,425.69 147.04,427.76 147.8,425.13 148.55,422.87 149.31,422.06 150.06,422.16 150.82,419.81 151.57,420.71 152.33,420.99 153.08,424.08 153.84,425.44 154.59,425.83 155.35,426.68 156.1,429.91 156.86,429.45 157.61,431.05 158.37,429.65 159.12,431.58 159.88,432.91 160.63,432.96 161.39,437.23 162.14,434.31 162.9,437.58 163.65,439.83 164.41,438.93 165.16,442.66 165.92,437.8 166.67,441.5 167.43,445.58 168.18,445.43 168.94,444.74 169.69,445.3 170.45,443.72 171.2,443.23 171.96,443.27 172.71,444.48 173.47,447.62 174.22,443.77 174.98,443.73 175.73,450.12 176.49,447.55 177.24,447.24 178,448.17 178.75,444.68 179.51,445.89 180.26,446.75 181.02,449.33 181.77,451.03 182.53,448.87 183.28,448.72 184.04,448.9 184.79,451.34 185.55,450.22 186.3,448.09 187.06,446.62 187.81,448.35 188.57,447.8 189.32,447.51 190.08,447.52 190.83,445.05 191.59,449.01 192.34,447.05 193.1,450.08 193.85,445.17 194.61,446.07 195.36,445.57 196.12,447.32 196.87,447.79 197.63,450.09 198.38,446.96 199.14,444.9 199.89,453.06 200.65,444.15 201.4,449.24 202.16,446.68 202.91,449.25 203.67,447.95 204.42,446.04 205.18,448.03 205.93,444.1 206.69,447.6 207.44,446.4 208.2,448.91 208.95,448.69 209.71,448.49 210.46,446.71 211.22,444.42 211.97,447.65 212.73,450.27 213.48,448.94 214.24,450.45 214.99,446.78 215.75,447.69 216.5,449.87 217.26,448.46 218.01,445.9 218.77,446.85 219.52,448.89 220.28,446.28 221.03,446.99 221.79,448.86 222.54,447.41 223.3,444.07 224.05,449.96 224.81,445.77 225.56,448.07 226.32,446.54 227.07,447.01 227.83,447.24 228.58,448.11 229.34,447.8 230.09,446.47 230.85,446.9 231.6,450.7 232.36,446.91 233.11,445.22 233.87,446.05 234.62,447.4 235.38,451.44 236.13,446.65 236.89,446.52 237.64,444.93 238.4,449.72" fill="none" stroke="#2424e2" stroke-width="1.05" stroke-linejoin="round"/>
<polyline points="50.4,448.95 51.16,449.54 51.91,449.02 52.67,451.9 53.42,449.42 54.18,449.34 54.93,449.23 55.69,445.33 56.44,449.73 57.2,449.37 57.95,446.26 58.71,449.6 59.46,446.1 60.22,447.59 60.97,449.72 61.73,449.88 62.48,448.2 63.24,448.86 63.99,448.28 64.75,449.61 65.5,447.29 66.26,449.79 67.01,449.39 67.77,448.81 68.52,450.94 69.28,449.08 70.03,448.85 70.79,451.31 71.54,451.99 72.3,445.97 73.05,448.96 73.81,448.7 74.56,449.67 75.32,445.28 76.07,448.81 76.83,451.94 77.58,447.42 78.34,450.32 79.09,447.51 79.85,448.63 80.6,445.83 81.36,447.4 82.11,449.08 82.87,445.49 83.62,442.88 84.38,449.35 85.13,446.11 85.89,447.51 86.64,447.35 87.4,450.69 88.15,450.15 88.91,445.37 89.66,447.87 90.42,449.21 91.17,444.54 91.93,445.66 92.68,446.6 93.44,449.99 94.19,448.02 94.95,445.02 95.7,451.97 96.46,451.04 97.21,449.4 97.97,445.79 98.72,447.19 99.48,446.62 100.23,447.06 100.99,447.12 101.74,444.77 102.5,439.8 103.25,445.9 104.01,444 104.76,447.28 105.52,442.94 106.27,445.67 107.03,445.2 107.78,446.17 108.54,446.44 109.29,445.66 110.05,446.17 110.8,446.47 111.56,439.83 112.31,442.33 113.07,440.97 113.82,441.71 114.58,445.43 115.33,442.41 116.09,444.26 116.84,444.15 117.6,442.89 118.35,442.52 119.11,442.91 119.86,443.11 120.62,444.24 121.37,443.89 122.13,441.74 122.88,440.14 123.64,442.57 124.39,445.53 125.15,444.53 125.9,443.59 126.66,443.68 127.41,443.4 128.17,443.48 128.92,445.27 129.68,446.72 130.43,449.3 131.19,444.05 131.94,444.96 132.7,447.89 133.45,446.06 134.21,446.79 134.96,446.72 135.72,442.12 136.47,446.13 137.23,440.19 137.98,444.97 138.74,445.66 139.49,443.33 140.25,437.96 141,442.21 141.76,439.74 142.51,444.02 143.27,436.7 144.02,438.88 144.78,434.34 145.53,429.17 146.29,430.13 147.04,425.84 147.8,425.53 148.55,423.83 149.31,421.14 150.06,418.68 150.82,420.56 151.57,421.3 152.33,424.21 153.08,427 153.84,424.79 154.59,426.91 155.35,427.44 156.1,427.23 156.86,428.94 157.61,433.55 158.37,432.37 159.12,433.39 159.88,435.49 160.63,440.58 161.39,438.64 162.14,438.18 162.9,437.39 163.65,440.45 164.41,443.49 165.16,438.7 165.92,442.28 166.67,443.81 167.43,442.42 168.18,442.66 168.94,444.73 169.69,446.21 170.45,446.57 171.2,444.16 171.96,446.35 172.71,445.33 173.47,450.43 174.22,447.76 174.98,447.7 175.73,448.03 176.49,451.14 177.24,448.21 178,444.22 178.75,446.87 179.51,448.63 180.26,449.08 181.02,450.43 181.77,447.28 182.53,449.38 183.28,448.64 184.04,446.07 184.79,446 185.55,446.69 186.3,451.34 187.06,449.16 187.81,445.65 188.57,450.47 189.32,445.55 190.08,448.17 190.83,446.22 191.59,449 192.34,450.55 193.1,450.26 193.85,445.26 194.61,448.89 195.36,450.73 196.12,446.61 196.87,451.41 197.63,448.62 198.38,447.62 199.14,447.72 199.89,447.47 200.65,448.52 201.4,453.35 202.16,447.87 202.91,448.47 203.67,448.79 204.42,447.4 205.18,446.84 205.93,447.98 206.69,445.37 207.44,443.97 208.2,447.85 208.95,449.15 209.71,451.08 210.46,447.28 211.22,452.07 211.97,445.04 212.73,446.48 213.48,449.54 214.24,447.1 214.99,450.26 215.75,450.73 216.5,446.95 217.26,450.57 218.01,448.01 218.77,448.77 219.52,445.34 220.28,447.88 221.03,445.31 221.79,446.77 222.54,450.09 223.3,450.9 224.05,452.82 224.81,448.47 225.56,454.2 226.32,450.22 227.07,453.45 227.83,449.82 228.58,447.13 229.34,450.35 230.09,449.7 230.85,449.5 231.6,448.03 232.36,451.59 233.11,448.37 233.87,448.8 234.62,450.69 235.38,450.59 236.13,446.14 236.89,447.14 237.64,447.74 238.4,450.31" fill="none" stroke="#1a1ad8" stroke-width="1.05" stroke-linejoin="round"/>
<polyline points="50.4,449.97 51.16,451.91 51.91,452.85 52.67,450.23 53.42,450.49 54.18,451.8 54.93,451.75 55.69,448.52 56.44,450.21 57.2,452.47 57.95,445.12 58.71,452.8 59.46,448.83 60.22,451.3 60.97,447.88 61.73,449.11 62.48,447.19 63.24,449.39 63.99,450.78 64.75,446.31 65.5,449.36 66.26,449.66 67.01,449.54 67.77,450.71 68.52,448.51 69.28,445.82 70.03,446.18 70.79,448.61 71.54,447.9 72.3,447.68 73.05,450.49 73.81,446.17 74.56,448.68 75.32,452.87 76.07,447.92 76.83,451.02 77.58,448.55 78.34,447.78 79.09,449.78 79.85,448.58 80.6,446.39 81.36,451.92 82.11,452.94 82.87,449.35 83.62,449.59 84.38,444.87 85.13,447.06 85.89,448 86.64,449.26 87.4,452.97 88.15,451.72 88.91,449.68 89.66,448.63 90.42,449.85 91.17,448.74 91.93,447.52 92.68,450.36 93.44,449.75 94.19,450.83 94.95,446.37 95.7,452.89 96.46,447.52 97.21,447.12 97.97,452.74 98.72,449.52 99.48,446.25 100.23,450.18 100.99,449.4 101.74,448.18 102.5,445.26 103.25,446.5 104.01,448.95 104.76,450.13 105.52,450.16 106.27,446.15 107.03,450.95 107.78,447.42 108.54,444.72 109.29,448.03 110.05,445.91 110.8,445.14 111.56,443.07 112.31,447.03 113.07,443.89 113.82,443.93 114.58,443.45 115.33,446.77 116.09,442.53 116.84,445.33 117.6,443.98 118.35,445.66 119.11,440.23 119.86,444.31 120.62,440.37 121.37,446.27 122.13,445.86 122.88,442.58 123.64,446.59 124.39,445.19 125.15,443.98 125.9,447.27 126.66,448.07 127.41,447.35 128.17,444.91 128.92,446.19 129.68,444.51 130.43,447.7 131.19,448.14 131.94,449.45 132.7,447.73 133.45,448.25 134.21,447.19 134.96,448.71 135.72,448.07 136.47,447.01 137.23,444.12 137.98,446.37 138.74,446.38 139.49,442.54 140.25,441.15 141,443.58 141.76,442.4 142.51,444.26 143.27,442.23 144.02,437.43 144.78,432.58 145.53,429.54 146.29,429.37 147.04,429.76 147.8,425.58 148.55,427.73 149.31,423.51 150.06,424.95 150.82,422.42 151.57,420.01 152.33,419.47 153.08,424.73 153.84,425.79 154.59,431.4 155.35,430.76 156.1,427.67 156.86,429.62 157.61,431.42 158.37,433.28 159.12,431.89 159.88,436.76 160.63,437.61 161.39,432.49 162.14,440.87 162.9,439.13 163.65,441.67 164.41,438.69 165.16,443.03 165.92,443.91 166.67,444.5 167.43,442.83 168.18,447.06 168.94,448.52 169.69,446.19 170.45,447.05 171.2,445.57 171.96,447.66 172.71,448.44 173.47,446.85 174.22,446.75 174.98,445.71 175.73,447.79 176.49,451.72 177.24,448.24 178,448.22 178.75,448.52 179.51,447.3 180.26,449.02 181.02,446.24 181.77,449.14 182.53,445.75 183.28,450.9 184.04,453.47 184.79,450.67 185.55,442.96 186.3,449.3 187.06,449.03 187.81,448.28 188.57,449.72 189.32,448.34 190.08,448.64 190.83,444.71 191.59,446.49 192.34,448.39 193.1,447.54 193.85,447.74 194.61,451.18 195.36,446.72 196.12,450.29 196.87,447.41 197.63,448.74 198.38,447.19 199.14,446.15 199.89,447.86 200.65,450.04 201.4,449.71 202.16,447.93 202.91,449.94 203.67,449.88 204.42,449.35 205.18,449.84 205.93,448.05 206.69,450.05 207.44,448.94 208.2,450.63 208.95,452.67 209.71,447.53 210.46,447.17 211.22,450.18 211.97,447.53 212.73,448.54 213.48,451.54 214.24,446.78 214.99,453.24 215.75,449.3 216.5,447.73 217.26,451.44 218.01,445.94 218.77,450.39 219.52,446.65 220.28,449.59 221.03,447.81 221.79,449.31 222.54,444.37 223.3,448.36 224.05,447.11 224.81,447.72 225.56,448.8 226.32,449.7 227.07,448.36 227.83,447.16 228.58,447.33 229.34,448.07 230.09,449.44 230.85,447.73 231.6,451.18 232.36,449.21 233.11,453.32 233.87,450.55 234.62,449.48 235.38,452.03 236.13,451.49 236.89,447.25 237.64,448.13 238.4,446.93" fill="none" stroke="#1212cc" stroke-width="1.05" stroke-linejoin="round"/>
<text x="133.2" y="349.4" font-size="14.3" fill="#e81414" style="stroke:#e81414">Tip approached</text>
<text x="151" y="479.2" font-size="14" fill="#15158f" style="stroke:#15158f">Tip retracted</text>
</g>
<g id="pe">
<text x="251.3" y="341" font-size="16.5">(e)</text>
<rect x="273.1" y="333.8" width="197" height="163.4" fill="none" stroke="#333" stroke-width="1.1"/>
<line x1="274.4" y1="497.2" x2="274.4" y2="493.9" stroke="#333" stroke-width="1.1"/>
<line x1="290.7" y1="497.2" x2="290.7" y2="491.2" stroke="#333" stroke-width="1.1"/>
<line x1="307" y1="497.2" x2="307" y2="493.9" stroke="#333" stroke-width="1.1"/>
<line x1="323.3" y1="497.2" x2="323.3" y2="491.2" stroke="#333" stroke-width="1.1"/>
<line x1="339.6" y1="497.2" x2="339.6" y2="493.9" stroke="#333" stroke-width="1.1"/>
<line x1="355.9" y1="497.2" x2="355.9" y2="491.2" stroke="#333" stroke-width="1.1"/>
<line x1="372.2" y1="497.2" x2="372.2" y2="493.9" stroke="#333" stroke-width="1.1"/>
<line x1="388.5" y1="497.2" x2="388.5" y2="491.2" stroke="#333" stroke-width="1.1"/>
<line x1="404.8" y1="497.2" x2="404.8" y2="493.9" stroke="#333" stroke-width="1.1"/>
<line x1="421.1" y1="497.2" x2="421.1" y2="491.2" stroke="#333" stroke-width="1.1"/>
<line x1="437.4" y1="497.2" x2="437.4" y2="493.9" stroke="#333" stroke-width="1.1"/>
<line x1="453.7" y1="497.2" x2="453.7" y2="491.2" stroke="#333" stroke-width="1.1"/>
<line x1="293.9" y1="333.8" x2="293.9" y2="339.8" stroke="#333" stroke-width="1.1"/>
<line x1="313.8" y1="333.8" x2="313.8" y2="337.1" stroke="#333" stroke-width="1.1"/>
<line x1="333.7" y1="333.8" x2="333.7" y2="339.8" stroke="#333" stroke-width="1.1"/>
<line x1="353.6" y1="333.8" x2="353.6" y2="337.1" stroke="#333" stroke-width="1.1"/>
<line x1="373.5" y1="333.8" x2="373.5" y2="339.8" stroke="#333" stroke-width="1.1"/>
<line x1="393.4" y1="333.8" x2="393.4" y2="337.1" stroke="#333" stroke-width="1.1"/>
<line x1="413.3" y1="333.8" x2="413.3" y2="339.8" stroke="#333" stroke-width="1.1"/>
<line x1="433.2" y1="333.8" x2="433.2" y2="337.1" stroke="#333" stroke-width="1.1"/>
<line x1="453.1" y1="333.8" x2="453.1" y2="339.8" stroke="#333" stroke-width="1.1"/>
<line x1="273.1" y1="484.6" x2="279.1" y2="484.6" stroke="#333" stroke-width="1.1"/>
<line x1="470.1" y1="484.6" x2="464.1" y2="484.6" stroke="#333" stroke-width="1.1"/>
<line x1="273.1" y1="469" x2="276.4" y2="469" stroke="#333" stroke-width="1.1"/>
<line x1="470.1" y1="469" x2="466.8" y2="469" stroke="#333" stroke-width="1.1"/>
<line x1="273.1" y1="453.4" x2="279.1" y2="453.4" stroke="#333" stroke-width="1.1"/>
<line x1="470.1" y1="453.4" x2="464.1" y2="453.4" stroke="#333" stroke-width="1.1"/>
<line x1="273.1" y1="437.8" x2="276.4" y2="437.8" stroke="#333" stroke-width="1.1"/>
<line x1="470.1" y1="437.8" x2="466.8" y2="437.8" stroke="#333" stroke-width="1.1"/>
<line x1="273.1" y1="422.2" x2="279.1" y2="422.2" stroke="#333" stroke-width="1.1"/>
<line x1="470.1" y1="422.2" x2="464.1" y2="422.2" stroke="#333" stroke-width="1.1"/>
<line x1="273.1" y1="406.6" x2="276.4" y2="406.6" stroke="#333" stroke-width="1.1"/>
<line x1="470.1" y1="406.6" x2="466.8" y2="406.6" stroke="#333" stroke-width="1.1"/>
<line x1="273.1" y1="391" x2="279.1" y2="391" stroke="#333" stroke-width="1.1"/>
<line x1="470.1" y1="391" x2="464.1" y2="391" stroke="#333" stroke-width="1.1"/>
<line x1="273.1" y1="375.4" x2="276.4" y2="375.4" stroke="#333" stroke-width="1.1"/>
<line x1="470.1" y1="375.4" x2="466.8" y2="375.4" stroke="#333" stroke-width="1.1"/>
<line x1="273.1" y1="359.8" x2="279.1" y2="359.8" stroke="#333" stroke-width="1.1"/>
<line x1="470.1" y1="359.8" x2="464.1" y2="359.8" stroke="#333" stroke-width="1.1"/>
<line x1="273.1" y1="344.2" x2="276.4" y2="344.2" stroke="#333" stroke-width="1.1"/>
<line x1="470.1" y1="344.2" x2="466.8" y2="344.2" stroke="#333" stroke-width="1.1"/>
<text x="290.7" y="517" text-anchor="middle" font-size="15.7">0</text>
<text x="323.3" y="517" text-anchor="middle" font-size="15.7">20</text>
<text x="355.9" y="517" text-anchor="middle" font-size="15.7">40</text>
<text x="388.5" y="517" text-anchor="middle" font-size="15.7">60</text>
<text x="421.1" y="517" text-anchor="middle" font-size="15.7">80</text>
<text x="453.7" y="517" text-anchor="middle" font-size="15.7">100</text>
<text x="477" y="490.1" font-size="16">1.0</text>
<text x="477" y="458.9" font-size="16">1.5</text>
<text x="477" y="427.7" font-size="16">2.0</text>
<text x="477" y="396.5" font-size="16">2.5</text>
<text x="477" y="365.3" font-size="16">3.0</text>
<text transform="translate(517.5,416.7) rotate(-90)" text-anchor="middle" font-size="14.3">Normalized intensity</text>
<text x="347.3" y="536" font-size="14.6"><tspan font-style="italic">d</tspan><tspan dy="3" font-size="9.6">s/t</tspan><tspan dy="-3"> (nm)</tspan></text>
<polyline points="290.4,343.9 292.8,342.6 291.6,346.8 298.85,349.19 307,363.54 315.15,352.31 323.3,382.26 331.45,379.14 339.6,410.03 347.75,404.1 355.9,443.1 364.05,433.43 372.2,468.63 380.35,461.82 388.5,476.8 396.65,473.37 404.8,478.36 412.95,479.61 421.1,480.23 429.25,477.74 437.4,480.54 445.55,482.1 453.7,484.6" fill="none" stroke="#1c22d6" stroke-width="1.4" stroke-linejoin="round"/>
<rect x="288.8" y="342.3" width="3.2" height="3.2" fill="#1c22d6"/>
<rect x="291.2" y="341" width="3.2" height="3.2" fill="#1c22d6"/>
<rect x="290" y="345.2" width="3.2" height="3.2" fill="#1c22d6"/>
<rect x="297.25" y="347.59" width="3.2" height="3.2" fill="#1c22d6"/>
<rect x="305.4" y="361.94" width="3.2" height="3.2" fill="#1c22d6"/>
<rect x="313.55" y="350.71" width="3.2" height="3.2" fill="#1c22d6"/>
<rect x="321.7" y="380.66" width="3.2" height="3.2" fill="#1c22d6"/>
<rect x="329.85" y="377.54" width="3.2" height="3.2" fill="#1c22d6"/>
<rect x="338" y="408.43" width="3.2" height="3.2" fill="#1c22d6"/>
<rect x="346.15" y="402.5" width="3.2" height="3.2" fill="#1c22d6"/>
<rect x="354.3" y="441.5" width="3.2" height="3.2" fill="#1c22d6"/>
<rect x="362.45" y="431.83" width="3.2" height="3.2" fill="#1c22d6"/>
<rect x="370.6" y="467.03" width="3.2" height="3.2" fill="#1c22d6"/>
<rect x="378.75" y="460.22" width="3.2" height="3.2" fill="#1c22d6"/>
<rect x="386.9" y="475.2" width="3.2" height="3.2" fill="#1c22d6"/>
<rect x="395.05" y="471.77" width="3.2" height="3.2" fill="#1c22d6"/>
<rect x="403.2" y="476.76" width="3.2" height="3.2" fill="#1c22d6"/>
<rect x="411.35" y="478.01" width="3.2" height="3.2" fill="#1c22d6"/>
<rect x="419.5" y="478.63" width="3.2" height="3.2" fill="#1c22d6"/>
<rect x="427.65" y="476.14" width="3.2" height="3.2" fill="#1c22d6"/>
<rect x="435.8" y="478.94" width="3.2" height="3.2" fill="#1c22d6"/>
<rect x="443.95" y="480.5" width="3.2" height="3.2" fill="#1c22d6"/>
<rect x="452.1" y="483" width="3.2" height="3.2" fill="#1c22d6"/>
<polyline points="306.19,340.46 307,342.23 307.81,344 308.63,345.77 309.44,347.54 310.26,349.32 311.07,351.09 311.89,352.86 312.7,354.63 313.52,356.4 314.33,358.17 315.15,359.95 315.96,362.16 316.78,364.34 317.59,366.48 318.41,368.58 319.22,370.65 320.04,372.69 320.85,374.68 321.67,376.65 322.49,378.58 323.3,380.48 324.12,382.35 324.93,384.18 325.75,385.99 326.56,387.76 327.38,389.51 328.19,391.22 329,392.91 329.82,394.56 330.63,396.19 331.45,397.79 332.26,399.37 333.08,400.92 333.89,402.44 334.71,403.93 335.52,405.4 336.34,406.85 337.15,408.27 337.97,409.67 338.78,411.04 339.6,412.39 340.41,413.72 341.23,415.02 342.04,416.31 342.86,417.57 343.67,418.81 344.49,420.03 345.31,421.22 346.12,422.4 346.94,423.56 347.75,424.7 348.56,425.82 349.38,426.92 350.19,428 351.01,429.06 351.82,430.11 352.64,431.14 353.45,432.15 354.27,433.14 355.08,434.12 355.9,435.08 356.71,436.02 357.53,436.95 358.34,437.86 359.16,438.75 359.97,439.64 360.79,440.5 361.61,441.35 362.42,442.19 363.24,443.01 364.05,443.82 364.87,444.62 365.68,445.4 366.5,446.17 367.31,446.93 368.12,447.67 368.94,448.4 369.75,449.12 370.57,449.82 371.38,450.52 372.2,451.2 373.01,451.87 373.83,452.53 374.64,453.18 375.46,453.82 376.27,454.44 377.09,455.06 377.9,455.66 378.72,456.26 379.53,456.84 380.35,457.42 381.16,457.98 381.98,458.54 382.79,459.09 383.61,459.62 384.42,460.15 385.24,460.67 386.05,461.18 386.87,461.68 387.69,462.18 388.5,462.66 389.31,463.14 390.13,463.61 390.94,464.07 391.76,464.52 392.57,464.97 393.39,465.4 394.2,465.83 395.02,466.26 395.83,466.67 396.65,467.08 397.46,467.48 398.28,467.88 399.09,468.27 399.91,468.65 400.72,469.03 401.54,469.39 402.35,469.76 403.17,470.11 403.99,470.46 404.8,470.81 405.62,471.15 406.43,471.48 407.25,471.81 408.06,472.13 408.88,472.45 409.69,472.76 410.5,473.06 411.32,473.37 412.13,473.66 412.95,473.95 413.76,474.24 414.58,474.52 415.39,474.79 416.21,475.07 417.02,475.33 417.84,475.6 418.65,475.85 419.47,476.11 420.28,476.36 421.1,476.6 421.91,476.84 422.73,477.08 423.54,477.31 424.36,477.54 425.17,477.77 425.99,477.99 426.8,478.2 427.62,478.42 428.43,478.63 429.25,478.84 430.06,479.04 430.88,479.24 431.69,479.43 432.51,479.63 433.32,479.82 434.14,480 434.95,480.19 435.77,480.37 436.58,480.54 437.4,480.72 438.21,480.89 439.03,481.06 439.84,481.22 440.66,481.39 441.47,481.55 442.29,481.7 443.11,481.86 443.92,482.01 444.74,482.16 445.55,482.31 446.37,482.45 447.18,482.59 448,482.73 448.81,482.87 449.62,483 450.44,483.14 451.25,483.27 452.07,483.4 452.88,483.52 453.7,483.65" fill="none" stroke="#1c22d6" stroke-width="1.1" stroke-dasharray="5 2 1.2 2"/>
<line x1="359.7" y1="349.7" x2="391.6" y2="349.7" stroke="#1c22d6" stroke-width="1.4"/>
<rect x="374.7" y="348.1" width="3.2" height="3.2" fill="#1c22d6"/>
<line x1="359.7" y1="364.9" x2="391.6" y2="364.9" stroke="#1c22d6" stroke-width="1.1" stroke-dasharray="5 2 1.2 2"/>
<text x="396.8" y="354.6" font-size="14.1">G<tspan dy="-5.5" font-size="9.5">+</tspan><tspan dy="5.5"> band</tspan></text>
<text x="396.8" y="370.9" font-size="14.1">Exp-decay</text>
</g>
</svg>
</body></html>
